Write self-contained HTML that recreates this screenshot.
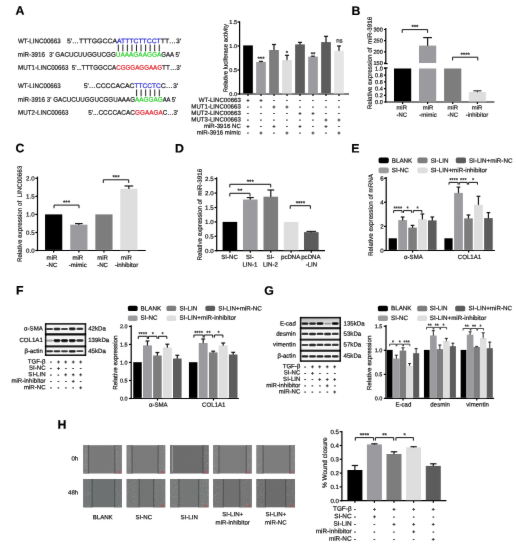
<!DOCTYPE html>
<html lang="en">
<head>
<meta charset="utf-8">
<title>Figure: LINC00663 / miR-3916</title>
<style>
html,body{margin:0;padding:0;background:#fff;}
body{width:516px;height:550px;overflow:hidden;}
svg{display:block;font-family:"Liberation Sans",Arial,Helvetica,sans-serif;fill:#161616;}
svg text{stroke-width:0.2px;text-rendering:geometricPrecision;}

</style>
</head>
<body>
<svg width="516" height="550" viewBox="0 0 516 550">
<defs>
<linearGradient id="ecad" x1="0" y1="0" x2="0.25" y2="1"><stop offset="0" stop-color="#b4b4b4"/><stop offset="0.55" stop-color="#d6d6d6"/><stop offset="1" stop-color="#ececec"/></linearGradient>
<filter id="soft" x="-5%" y="-5%" width="110%" height="110%"><feConvolveMatrix order="3" kernelMatrix="0.0035 0.0521 0.0035 0.0521 0.7778 0.0521 0.0035 0.0521 0.0035" divisor="1" edgeMode="none" preserveAlpha="false"/></filter>
<filter id="band" x="-20%" y="-50%" width="140%" height="200%"><feGaussianBlur stdDeviation="0.55"/></filter>
<filter id="noise" x="0" y="0" width="100%" height="100%">
<feTurbulence type="fractalNoise" baseFrequency="0.9" numOctaves="2" seed="3" result="n"/>
<feColorMatrix in="n" type="matrix" values="0 0 0 0 1  0 0 0 0 1  0 0 0 0 1  2.2 0 0 0 -1.25" result="w"/>
<feComposite in="w" in2="SourceGraphic" operator="in"/>
</filter>
</defs>
<rect x="0" y="0" width="516" height="550" fill="#ffffff"/>
<g filter="url(#soft)" stroke="#161616" stroke-width="0">
<text x="15.50" y="14.80" font-size="12.3" font-weight="bold" fill="#000" stroke="#000" transform="rotate(0.05 15.50 14.80)">A</text>
<text x="351.50" y="14.90" font-size="12.3" font-weight="bold" fill="#000" stroke="#000" transform="rotate(0.05 351.50 14.90)">B</text>
<text x="15.60" y="152.30" font-size="12.3" font-weight="bold" fill="#000" stroke="#000" transform="rotate(0.05 15.60 152.30)">C</text>
<text x="174.90" y="152.50" font-size="12.3" font-weight="bold" fill="#000" stroke="#000" transform="rotate(0.05 174.90 152.50)">D</text>
<text x="351.20" y="152.40" font-size="12.3" font-weight="bold" fill="#000" stroke="#000" transform="rotate(0.05 351.20 152.40)">E</text>
<text x="16.00" y="294.60" font-size="12.3" font-weight="bold" fill="#000" stroke="#000" transform="rotate(0.05 16.00 294.60)">F</text>
<text x="264.30" y="294.70" font-size="12.3" font-weight="bold" fill="#000" stroke="#000" transform="rotate(0.05 264.30 294.70)">G</text>
<text x="57.50" y="428.80" font-size="12.3" font-weight="bold" fill="#000" stroke="#000" transform="rotate(0.05 57.50 428.80)">H</text>
<text x="18.00" y="43.30" font-size="6.7" textLength="42.70" lengthAdjust="spacingAndGlyphs" xml:space="preserve" transform="rotate(0.05 18.00 43.30)">WT-LINC00663</text>
<text x="66.90" y="43.30" font-size="6.7" textLength="50.20" lengthAdjust="spacingAndGlyphs" xml:space="preserve" transform="rotate(0.05 66.90 43.30)">5'…TTTGGCCA</text>
<text x="117.10" y="43.30" font-size="6.7" textLength="43.60" lengthAdjust="spacingAndGlyphs" xml:space="preserve" transform="rotate(0.05 117.10 43.30)" fill="#2a2ad0" stroke="#2a2ad0">ATTTCTTCCT</text>
<text x="160.70" y="43.30" font-size="6.7" textLength="20.40" lengthAdjust="spacingAndGlyphs" xml:space="preserve" transform="rotate(0.05 160.70 43.30)">TT…3'</text>
<text x="18.00" y="56.80" font-size="6.7" textLength="27.00" lengthAdjust="spacingAndGlyphs" xml:space="preserve" transform="rotate(0.05 18.00 56.80)">miR-3916</text>
<text x="48.90" y="56.80" font-size="6.7" textLength="66.90" lengthAdjust="spacingAndGlyphs" xml:space="preserve" transform="rotate(0.05 48.90 56.80)">3' GACUCUUGGUCGG</text>
<text x="115.80" y="56.80" font-size="6.7" textLength="45.50" lengthAdjust="spacingAndGlyphs" xml:space="preserve" transform="rotate(0.05 115.80 56.80)" fill="#2fd12f" stroke="#2fd12f">UAAAGAAGGA</text>
<text x="161.30" y="56.80" font-size="6.7" textLength="18.80" lengthAdjust="spacingAndGlyphs" xml:space="preserve" transform="rotate(0.05 161.30 56.80)">GAA 5'</text>
<text x="18.00" y="69.70" font-size="6.7" textLength="50.40" lengthAdjust="spacingAndGlyphs" xml:space="preserve" transform="rotate(0.05 18.00 69.70)">MUT1-LINC00663</text>
<text x="71.70" y="69.70" font-size="6.7" textLength="44.50" lengthAdjust="spacingAndGlyphs" xml:space="preserve" transform="rotate(0.05 71.70 69.70)">5'...TTTGGCCA</text>
<text x="116.20" y="69.70" font-size="6.7" textLength="45.90" lengthAdjust="spacingAndGlyphs" xml:space="preserve" transform="rotate(0.05 116.20 69.70)" fill="#e0202a" stroke="#e0202a">CGGGAGGAAG</text>
<text x="162.10" y="69.70" font-size="6.7" textLength="19.00" lengthAdjust="spacingAndGlyphs" xml:space="preserve" transform="rotate(0.05 162.10 69.70)">TT…3'</text>
<line x1="118.30" y1="44.60" x2="118.30" y2="51.40" stroke="#222" stroke-width="1.0" />
<line x1="122.85" y1="44.60" x2="122.85" y2="51.40" stroke="#222" stroke-width="1.0" />
<line x1="127.40" y1="44.60" x2="127.40" y2="51.40" stroke="#222" stroke-width="1.0" />
<line x1="131.95" y1="44.60" x2="131.95" y2="51.40" stroke="#222" stroke-width="1.0" />
<line x1="136.50" y1="44.60" x2="136.50" y2="51.40" stroke="#222" stroke-width="1.0" />
<line x1="141.05" y1="44.60" x2="141.05" y2="51.40" stroke="#222" stroke-width="1.0" />
<line x1="145.60" y1="44.60" x2="145.60" y2="51.40" stroke="#222" stroke-width="1.0" />
<line x1="150.15" y1="44.60" x2="150.15" y2="51.40" stroke="#222" stroke-width="1.0" />
<line x1="154.70" y1="44.60" x2="154.70" y2="51.40" stroke="#222" stroke-width="1.0" />
<line x1="159.25" y1="44.60" x2="159.25" y2="51.40" stroke="#222" stroke-width="1.0" />
<text x="18.00" y="87.90" font-size="6.7" textLength="42.70" lengthAdjust="spacingAndGlyphs" xml:space="preserve" transform="rotate(0.05 18.00 87.90)">WT-LINC00663</text>
<text x="83.70" y="87.90" font-size="6.7" textLength="50.90" lengthAdjust="spacingAndGlyphs" xml:space="preserve" transform="rotate(0.05 83.70 87.90)">5'…CCCCACAC</text>
<text x="134.60" y="87.90" font-size="6.7" textLength="26.10" lengthAdjust="spacingAndGlyphs" xml:space="preserve" transform="rotate(0.05 134.60 87.90)" fill="#2a2ad0" stroke="#2a2ad0">TTCCTC</text>
<text x="160.70" y="87.90" font-size="6.7" textLength="17.50" lengthAdjust="spacingAndGlyphs" xml:space="preserve" transform="rotate(0.05 160.70 87.90)">C…3'</text>
<text x="18.00" y="101.70" font-size="6.7" textLength="117.00" lengthAdjust="spacingAndGlyphs" xml:space="preserve" transform="rotate(0.05 18.00 101.70)">miR-3916 3' GACUCUUGGUCGGUAAAG</text>
<text x="135.00" y="101.70" font-size="6.7" textLength="27.70" lengthAdjust="spacingAndGlyphs" xml:space="preserve" transform="rotate(0.05 135.00 101.70)" fill="#2fd12f" stroke="#2fd12f">AAGGAG</text>
<text x="162.70" y="101.70" font-size="6.7" textLength="13.50" lengthAdjust="spacingAndGlyphs" xml:space="preserve" transform="rotate(0.05 162.70 101.70)">AA 5'</text>
<text x="18.00" y="114.70" font-size="6.7" textLength="50.40" lengthAdjust="spacingAndGlyphs" xml:space="preserve" transform="rotate(0.05 18.00 114.70)">MUT2-LINC00663</text>
<text x="88.20" y="114.70" font-size="6.7" textLength="46.80" lengthAdjust="spacingAndGlyphs" xml:space="preserve" transform="rotate(0.05 88.20 114.70)">5'...CCCCACAC</text>
<text x="135.00" y="114.70" font-size="6.7" textLength="27.70" lengthAdjust="spacingAndGlyphs" xml:space="preserve" transform="rotate(0.05 135.00 114.70)" fill="#e0202a" stroke="#e0202a">GGAAGA</text>
<text x="162.70" y="114.70" font-size="6.7" textLength="15.50" lengthAdjust="spacingAndGlyphs" xml:space="preserve" transform="rotate(0.05 162.70 114.70)">C…3'</text>
<line x1="136.60" y1="89.50" x2="136.60" y2="96.30" stroke="#222" stroke-width="1.0" />
<line x1="141.14" y1="89.50" x2="141.14" y2="96.30" stroke="#222" stroke-width="1.0" />
<line x1="145.68" y1="89.50" x2="145.68" y2="96.30" stroke="#222" stroke-width="1.0" />
<line x1="150.22" y1="89.50" x2="150.22" y2="96.30" stroke="#222" stroke-width="1.0" />
<line x1="154.76" y1="89.50" x2="154.76" y2="96.30" stroke="#222" stroke-width="1.0" />
<line x1="159.30" y1="89.50" x2="159.30" y2="96.30" stroke="#222" stroke-width="1.0" />
<line x1="239.60" y1="21.20" x2="239.60" y2="94.60" stroke="#000" stroke-width="1.2" />
<line x1="237.40" y1="22.00" x2="239.60" y2="22.00" stroke="#000" stroke-width="1.2" />
<text x="237.00" y="23.98" font-size="5.5" text-anchor="end" transform="rotate(0.05 237.00 23.98)">1.5</text>
<line x1="237.40" y1="46.00" x2="239.60" y2="46.00" stroke="#000" stroke-width="1.2" />
<text x="237.00" y="47.98" font-size="5.5" text-anchor="end" transform="rotate(0.05 237.00 47.98)">1.0</text>
<line x1="237.40" y1="70.00" x2="239.60" y2="70.00" stroke="#000" stroke-width="1.2" />
<text x="237.00" y="71.98" font-size="5.5" text-anchor="end" transform="rotate(0.05 237.00 71.98)">0.5</text>
<line x1="237.40" y1="94.00" x2="239.60" y2="94.00" stroke="#000" stroke-width="1.2" />
<text x="237.00" y="95.98" font-size="5.5" text-anchor="end" transform="rotate(0.05 237.00 95.98)">0.0</text>
<line x1="239.00" y1="94.00" x2="349.00" y2="94.00" stroke="#000" stroke-width="1.2" />
<line x1="248.00" y1="94.00" x2="248.00" y2="96.00" stroke="#000" stroke-width="1.2" />
<line x1="261.00" y1="94.00" x2="261.00" y2="96.00" stroke="#000" stroke-width="1.2" />
<line x1="274.00" y1="94.00" x2="274.00" y2="96.00" stroke="#000" stroke-width="1.2" />
<line x1="287.00" y1="94.00" x2="287.00" y2="96.00" stroke="#000" stroke-width="1.2" />
<line x1="300.00" y1="94.00" x2="300.00" y2="96.00" stroke="#000" stroke-width="1.2" />
<line x1="313.00" y1="94.00" x2="313.00" y2="96.00" stroke="#000" stroke-width="1.2" />
<line x1="326.00" y1="94.00" x2="326.00" y2="96.00" stroke="#000" stroke-width="1.2" />
<line x1="339.00" y1="94.00" x2="339.00" y2="96.00" stroke="#000" stroke-width="1.2" />
<text x="227.60" y="58.20" font-size="5.9" text-anchor="middle" transform="rotate(-89.95 227.60 58.20)" textLength="68.2" lengthAdjust="spacingAndGlyphs">Relative luciferase activity</text>
<rect x="243.15" y="45.40" width="9.70" height="48.00" fill="#000000"/>
<rect x="256.15" y="61.90" width="9.70" height="31.50" fill="#9b9b9f"/>
<line x1="261.00" y1="62.20" x2="261.00" y2="61.40" stroke="#141414" stroke-width="1.2" />
<line x1="258.95" y1="61.40" x2="263.05" y2="61.40" stroke="#141414" stroke-width="1.2" />
<rect x="269.15" y="50.00" width="9.70" height="43.40" fill="#7d7d7d"/>
<line x1="274.00" y1="50.30" x2="274.00" y2="44.50" stroke="#141414" stroke-width="1.2" />
<line x1="271.95" y1="44.50" x2="276.05" y2="44.50" stroke="#141414" stroke-width="1.2" />
<rect x="282.15" y="60.00" width="9.70" height="33.40" fill="#dedede"/>
<line x1="287.00" y1="60.30" x2="287.00" y2="55.30" stroke="#141414" stroke-width="1.2" />
<line x1="284.95" y1="55.30" x2="289.05" y2="55.30" stroke="#141414" stroke-width="1.2" />
<rect x="295.15" y="44.40" width="9.70" height="49.00" fill="#5c5c5c"/>
<line x1="300.00" y1="44.70" x2="300.00" y2="42.40" stroke="#141414" stroke-width="1.2" />
<line x1="297.95" y1="42.40" x2="302.05" y2="42.40" stroke="#141414" stroke-width="1.2" />
<rect x="308.15" y="56.60" width="9.70" height="36.80" fill="#9b9b9f"/>
<line x1="313.00" y1="56.90" x2="313.00" y2="56.20" stroke="#141414" stroke-width="1.2" />
<line x1="310.95" y1="56.20" x2="315.05" y2="56.20" stroke="#141414" stroke-width="1.2" />
<rect x="321.15" y="42.10" width="9.70" height="51.30" fill="#5c5c5c"/>
<line x1="326.00" y1="42.40" x2="326.00" y2="36.30" stroke="#141414" stroke-width="1.2" />
<line x1="323.95" y1="36.30" x2="328.05" y2="36.30" stroke="#141414" stroke-width="1.2" />
<rect x="334.15" y="50.70" width="9.70" height="42.70" fill="#e6e6e6"/>
<line x1="339.00" y1="51.00" x2="339.00" y2="46.00" stroke="#141414" stroke-width="1.2" />
<line x1="336.95" y1="46.00" x2="341.05" y2="46.00" stroke="#141414" stroke-width="1.2" />
<text x="261.00" y="60.80" font-size="6.0" text-anchor="middle" transform="rotate(0.05 261.00 60.80)">***</text>
<text x="287.00" y="54.90" font-size="6.0" text-anchor="middle" transform="rotate(0.05 287.00 54.90)">*</text>
<text x="313.00" y="56.20" font-size="6.0" text-anchor="middle" transform="rotate(0.05 313.00 56.20)">**</text>
<text x="339.30" y="42.60" font-size="6.0" text-anchor="middle" transform="rotate(0.05 339.30 42.60)">ns</text>
<text x="240.80" y="102.00" font-size="6.1" text-anchor="end" transform="rotate(0.05 240.80 102.00)">WT-LINC00663</text>
<text x="248.00" y="102.30" font-size="5.0" text-anchor="middle" font-weight="bold" transform="rotate(0.05 248.00 102.30)">+</text>
<text x="261.00" y="102.30" font-size="5.0" text-anchor="middle" font-weight="bold" transform="rotate(0.05 261.00 102.30)">+</text>
<text x="274.00" y="102.10" font-size="5.4" text-anchor="middle" font-weight="bold" transform="rotate(0.05 274.00 102.10)">-</text>
<text x="287.00" y="102.10" font-size="5.4" text-anchor="middle" font-weight="bold" transform="rotate(0.05 287.00 102.10)">-</text>
<text x="300.00" y="102.10" font-size="5.4" text-anchor="middle" font-weight="bold" transform="rotate(0.05 300.00 102.10)">-</text>
<text x="313.00" y="102.10" font-size="5.4" text-anchor="middle" font-weight="bold" transform="rotate(0.05 313.00 102.10)">-</text>
<text x="326.00" y="102.10" font-size="5.4" text-anchor="middle" font-weight="bold" transform="rotate(0.05 326.00 102.10)">-</text>
<text x="339.00" y="102.10" font-size="5.4" text-anchor="middle" font-weight="bold" transform="rotate(0.05 339.00 102.10)">-</text>
<text x="240.80" y="108.50" font-size="6.1" text-anchor="end" transform="rotate(0.05 240.80 108.50)">MUT1-LINC00663</text>
<text x="248.00" y="108.60" font-size="5.4" text-anchor="middle" font-weight="bold" transform="rotate(0.05 248.00 108.60)">-</text>
<text x="261.00" y="108.60" font-size="5.4" text-anchor="middle" font-weight="bold" transform="rotate(0.05 261.00 108.60)">-</text>
<text x="274.00" y="108.80" font-size="5.0" text-anchor="middle" font-weight="bold" transform="rotate(0.05 274.00 108.80)">+</text>
<text x="287.00" y="108.80" font-size="5.0" text-anchor="middle" font-weight="bold" transform="rotate(0.05 287.00 108.80)">+</text>
<text x="300.00" y="108.60" font-size="5.4" text-anchor="middle" font-weight="bold" transform="rotate(0.05 300.00 108.60)">-</text>
<text x="313.00" y="108.60" font-size="5.4" text-anchor="middle" font-weight="bold" transform="rotate(0.05 313.00 108.60)">-</text>
<text x="326.00" y="108.60" font-size="5.4" text-anchor="middle" font-weight="bold" transform="rotate(0.05 326.00 108.60)">-</text>
<text x="339.00" y="108.60" font-size="5.4" text-anchor="middle" font-weight="bold" transform="rotate(0.05 339.00 108.60)">-</text>
<text x="240.80" y="115.00" font-size="6.1" text-anchor="end" transform="rotate(0.05 240.80 115.00)">MUT2-LINC00663</text>
<text x="248.00" y="115.10" font-size="5.4" text-anchor="middle" font-weight="bold" transform="rotate(0.05 248.00 115.10)">-</text>
<text x="261.00" y="115.10" font-size="5.4" text-anchor="middle" font-weight="bold" transform="rotate(0.05 261.00 115.10)">-</text>
<text x="274.00" y="115.10" font-size="5.4" text-anchor="middle" font-weight="bold" transform="rotate(0.05 274.00 115.10)">-</text>
<text x="287.00" y="115.10" font-size="5.4" text-anchor="middle" font-weight="bold" transform="rotate(0.05 287.00 115.10)">-</text>
<text x="300.00" y="115.30" font-size="5.0" text-anchor="middle" font-weight="bold" transform="rotate(0.05 300.00 115.30)">+</text>
<text x="313.00" y="115.30" font-size="5.0" text-anchor="middle" font-weight="bold" transform="rotate(0.05 313.00 115.30)">+</text>
<text x="326.00" y="115.10" font-size="5.4" text-anchor="middle" font-weight="bold" transform="rotate(0.05 326.00 115.10)">-</text>
<text x="339.00" y="115.10" font-size="5.4" text-anchor="middle" font-weight="bold" transform="rotate(0.05 339.00 115.10)">-</text>
<text x="240.80" y="121.50" font-size="6.1" text-anchor="end" transform="rotate(0.05 240.80 121.50)">MUT3-LINC00663</text>
<text x="248.00" y="121.60" font-size="5.4" text-anchor="middle" font-weight="bold" transform="rotate(0.05 248.00 121.60)">-</text>
<text x="261.00" y="121.60" font-size="5.4" text-anchor="middle" font-weight="bold" transform="rotate(0.05 261.00 121.60)">-</text>
<text x="274.00" y="121.60" font-size="5.4" text-anchor="middle" font-weight="bold" transform="rotate(0.05 274.00 121.60)">-</text>
<text x="287.00" y="121.60" font-size="5.4" text-anchor="middle" font-weight="bold" transform="rotate(0.05 287.00 121.60)">-</text>
<text x="300.00" y="121.60" font-size="5.4" text-anchor="middle" font-weight="bold" transform="rotate(0.05 300.00 121.60)">-</text>
<text x="313.00" y="121.60" font-size="5.4" text-anchor="middle" font-weight="bold" transform="rotate(0.05 313.00 121.60)">-</text>
<text x="326.00" y="121.80" font-size="5.0" text-anchor="middle" font-weight="bold" transform="rotate(0.05 326.00 121.80)">+</text>
<text x="339.00" y="121.80" font-size="5.0" text-anchor="middle" font-weight="bold" transform="rotate(0.05 339.00 121.80)">+</text>
<text x="240.80" y="128.00" font-size="6.1" text-anchor="end" transform="rotate(0.05 240.80 128.00)">miR-3916 NC</text>
<text x="248.00" y="128.30" font-size="5.0" text-anchor="middle" font-weight="bold" transform="rotate(0.05 248.00 128.30)">+</text>
<text x="261.00" y="128.10" font-size="5.4" text-anchor="middle" font-weight="bold" transform="rotate(0.05 261.00 128.10)">-</text>
<text x="274.00" y="128.30" font-size="5.0" text-anchor="middle" font-weight="bold" transform="rotate(0.05 274.00 128.30)">+</text>
<text x="287.00" y="128.10" font-size="5.4" text-anchor="middle" font-weight="bold" transform="rotate(0.05 287.00 128.10)">-</text>
<text x="300.00" y="128.30" font-size="5.0" text-anchor="middle" font-weight="bold" transform="rotate(0.05 300.00 128.30)">+</text>
<text x="313.00" y="128.10" font-size="5.4" text-anchor="middle" font-weight="bold" transform="rotate(0.05 313.00 128.10)">-</text>
<text x="326.00" y="128.30" font-size="5.0" text-anchor="middle" font-weight="bold" transform="rotate(0.05 326.00 128.30)">+</text>
<text x="339.00" y="128.10" font-size="5.4" text-anchor="middle" font-weight="bold" transform="rotate(0.05 339.00 128.10)">-</text>
<text x="240.80" y="134.50" font-size="6.1" text-anchor="end" transform="rotate(0.05 240.80 134.50)">miR-3916 mimic</text>
<text x="248.00" y="134.60" font-size="5.4" text-anchor="middle" font-weight="bold" transform="rotate(0.05 248.00 134.60)">-</text>
<text x="261.00" y="134.80" font-size="5.0" text-anchor="middle" font-weight="bold" transform="rotate(0.05 261.00 134.80)">+</text>
<text x="274.00" y="134.60" font-size="5.4" text-anchor="middle" font-weight="bold" transform="rotate(0.05 274.00 134.60)">-</text>
<text x="287.00" y="134.80" font-size="5.0" text-anchor="middle" font-weight="bold" transform="rotate(0.05 287.00 134.80)">+</text>
<text x="300.00" y="134.60" font-size="5.4" text-anchor="middle" font-weight="bold" transform="rotate(0.05 300.00 134.60)">-</text>
<text x="313.00" y="134.80" font-size="5.0" text-anchor="middle" font-weight="bold" transform="rotate(0.05 313.00 134.80)">+</text>
<text x="326.00" y="134.60" font-size="5.4" text-anchor="middle" font-weight="bold" transform="rotate(0.05 326.00 134.60)">-</text>
<text x="339.00" y="134.80" font-size="5.0" text-anchor="middle" font-weight="bold" transform="rotate(0.05 339.00 134.80)">+</text>
<line x1="385.80" y1="28.00" x2="385.80" y2="63.60" stroke="#000" stroke-width="1.2" />
<line x1="384.00" y1="29.50" x2="385.80" y2="29.50" stroke="#000" stroke-width="1.2" />
<text x="382.80" y="31.52" font-size="5.6" text-anchor="end" transform="rotate(0.05 382.80 31.52)">300</text>
<line x1="384.00" y1="40.60" x2="385.80" y2="40.60" stroke="#000" stroke-width="1.2" />
<text x="382.80" y="42.62" font-size="5.6" text-anchor="end" transform="rotate(0.05 382.80 42.62)">250</text>
<line x1="384.00" y1="51.80" x2="385.80" y2="51.80" stroke="#000" stroke-width="1.2" />
<text x="382.80" y="53.82" font-size="5.6" text-anchor="end" transform="rotate(0.05 382.80 53.82)">200</text>
<line x1="384.00" y1="63.00" x2="385.80" y2="63.00" stroke="#000" stroke-width="1.2" />
<text x="382.80" y="65.02" font-size="5.6" text-anchor="end" transform="rotate(0.05 382.80 65.02)">150</text>
<line x1="385.80" y1="67.90" x2="385.80" y2="102.60" stroke="#000" stroke-width="1.2" />
<line x1="384.00" y1="68.50" x2="385.80" y2="68.50" stroke="#000" stroke-width="1.2" />
<text x="382.80" y="70.52" font-size="5.6" text-anchor="end" transform="rotate(0.05 382.80 70.52)">1.0</text>
<line x1="384.00" y1="75.20" x2="385.80" y2="75.20" stroke="#000" stroke-width="1.2" />
<text x="382.80" y="77.22" font-size="5.6" text-anchor="end" transform="rotate(0.05 382.80 77.22)">0.8</text>
<line x1="384.00" y1="81.90" x2="385.80" y2="81.90" stroke="#000" stroke-width="1.2" />
<text x="382.80" y="83.92" font-size="5.6" text-anchor="end" transform="rotate(0.05 382.80 83.92)">0.6</text>
<line x1="384.00" y1="88.60" x2="385.80" y2="88.60" stroke="#000" stroke-width="1.2" />
<text x="382.80" y="90.62" font-size="5.6" text-anchor="end" transform="rotate(0.05 382.80 90.62)">0.4</text>
<line x1="384.00" y1="95.30" x2="385.80" y2="95.30" stroke="#000" stroke-width="1.2" />
<text x="382.80" y="97.32" font-size="5.6" text-anchor="end" transform="rotate(0.05 382.80 97.32)">0.2</text>
<line x1="384.00" y1="102.00" x2="385.80" y2="102.00" stroke="#000" stroke-width="1.2" />
<text x="382.80" y="104.02" font-size="5.6" text-anchor="end" transform="rotate(0.05 382.80 104.02)">0.0</text>
<line x1="385.20" y1="102.00" x2="494.40" y2="102.00" stroke="#000" stroke-width="1.2" />
<line x1="402.60" y1="102.00" x2="402.60" y2="104.00" stroke="#000" stroke-width="1.2" />
<line x1="427.60" y1="102.00" x2="427.60" y2="104.00" stroke="#000" stroke-width="1.2" />
<line x1="452.70" y1="102.00" x2="452.70" y2="104.00" stroke="#000" stroke-width="1.2" />
<line x1="477.40" y1="102.00" x2="477.40" y2="104.00" stroke="#000" stroke-width="1.2" />
<line x1="384.00" y1="63.60" x2="387.60" y2="63.60" stroke="#000" stroke-width="1.2" />
<line x1="384.00" y1="67.90" x2="387.60" y2="67.90" stroke="#000" stroke-width="1.2" />
<text x="371.80" y="63.00" font-size="6.2" xml:space="preserve" text-anchor="middle" transform="rotate(-89.95 371.80 63.00)" textLength="92.7" lengthAdjust="spacingAndGlyphs">Relative expression of  miR-3916</text>
<rect x="394.00" y="68.50" width="17.20" height="32.90" fill="#000000"/>
<rect x="419.00" y="68.50" width="17.20" height="32.90" fill="#9b9b9f"/>
<rect x="419.00" y="45.60" width="17.20" height="17.40" fill="#9b9b9f"/>
<line x1="427.60" y1="45.90" x2="427.60" y2="37.60" stroke="#141414" stroke-width="1.2" />
<line x1="423.20" y1="37.60" x2="432.00" y2="37.60" stroke="#141414" stroke-width="1.2" />
<rect x="444.10" y="68.50" width="17.20" height="32.90" fill="#7d7d7d"/>
<rect x="468.80" y="92.00" width="17.20" height="9.40" fill="#dedede"/>
<line x1="477.40" y1="92.20" x2="477.40" y2="90.90" stroke="#141414" stroke-width="1.1" />
<line x1="473.30" y1="90.90" x2="481.50" y2="90.90" stroke="#141414" stroke-width="1.1" />
<path d="M402.20 32.80V29.60H427.60V32.80" stroke="#141414" stroke-width="1.0" fill="none" />
<text x="414.90" y="29.10" font-size="6.0" text-anchor="middle" transform="rotate(0.05 414.90 29.10)">***</text>
<path d="M452.60 60.40V57.20H477.80V60.40" stroke="#141414" stroke-width="1.0" fill="none" />
<text x="465.20" y="56.70" font-size="6.0" text-anchor="middle" transform="rotate(0.05 465.20 56.70)">****</text>
<text x="401.70" y="109.40" font-size="5.9" text-anchor="middle" transform="rotate(0.05 401.70 109.40)">miR</text>
<text x="401.70" y="116.80" font-size="5.9" text-anchor="middle" transform="rotate(0.05 401.70 116.80)">-NC</text>
<text x="428.00" y="109.40" font-size="5.9" text-anchor="middle" transform="rotate(0.05 428.00 109.40)">miR</text>
<text x="428.00" y="116.80" font-size="5.9" text-anchor="middle" transform="rotate(0.05 428.00 116.80)">-mimic</text>
<text x="452.80" y="109.40" font-size="5.9" text-anchor="middle" transform="rotate(0.05 452.80 109.40)">miR</text>
<text x="452.80" y="116.80" font-size="5.9" text-anchor="middle" transform="rotate(0.05 452.80 116.80)">-NC</text>
<text x="477.00" y="109.40" font-size="5.9" text-anchor="middle" transform="rotate(0.05 477.00 109.40)">miR</text>
<text x="477.00" y="116.80" font-size="5.9" text-anchor="middle" transform="rotate(0.05 477.00 116.80)">-inhibitor</text>
<line x1="37.50" y1="176.60" x2="37.50" y2="251.10" stroke="#000" stroke-width="1.2" />
<line x1="35.30" y1="178.30" x2="37.50" y2="178.30" stroke="#000" stroke-width="1.2" />
<text x="34.60" y="180.50" font-size="6.1" text-anchor="end" transform="rotate(0.05 34.60 180.50)">2.0</text>
<line x1="35.30" y1="196.35" x2="37.50" y2="196.35" stroke="#000" stroke-width="1.2" />
<text x="34.60" y="198.55" font-size="6.1" text-anchor="end" transform="rotate(0.05 34.60 198.55)">1.5</text>
<line x1="35.30" y1="214.40" x2="37.50" y2="214.40" stroke="#000" stroke-width="1.2" />
<text x="34.60" y="216.60" font-size="6.1" text-anchor="end" transform="rotate(0.05 34.60 216.60)">1.0</text>
<line x1="35.30" y1="232.45" x2="37.50" y2="232.45" stroke="#000" stroke-width="1.2" />
<text x="34.60" y="234.65" font-size="6.1" text-anchor="end" transform="rotate(0.05 34.60 234.65)">0.5</text>
<line x1="35.30" y1="250.50" x2="37.50" y2="250.50" stroke="#000" stroke-width="1.2" />
<text x="34.60" y="252.70" font-size="6.1" text-anchor="end" transform="rotate(0.05 34.60 252.70)">0.0</text>
<line x1="36.90" y1="250.50" x2="145.80" y2="250.50" stroke="#000" stroke-width="1.2" />
<line x1="53.65" y1="250.50" x2="53.65" y2="252.50" stroke="#000" stroke-width="1.2" />
<line x1="78.85" y1="250.50" x2="78.85" y2="252.50" stroke="#000" stroke-width="1.2" />
<line x1="103.95" y1="250.50" x2="103.95" y2="252.50" stroke="#000" stroke-width="1.2" />
<line x1="128.85" y1="250.50" x2="128.85" y2="252.50" stroke="#000" stroke-width="1.2" />
<text x="21.80" y="214.00" font-size="6.2" xml:space="preserve" text-anchor="middle" transform="rotate(-89.95 21.80 214.00)" textLength="96.2" lengthAdjust="spacingAndGlyphs">Relative expression of  LINC00663</text>
<rect x="45.05" y="214.40" width="17.20" height="35.50" fill="#000000"/>
<rect x="70.25" y="224.70" width="17.20" height="25.20" fill="#9b9b9f"/>
<line x1="78.85" y1="225.00" x2="78.85" y2="223.60" stroke="#141414" stroke-width="1.2" />
<line x1="75.05" y1="223.60" x2="82.65" y2="223.60" stroke="#141414" stroke-width="1.2" />
<rect x="95.35" y="214.40" width="17.20" height="35.50" fill="#7d7d7d"/>
<rect x="120.25" y="188.70" width="17.20" height="61.20" fill="#dedede"/>
<line x1="128.85" y1="189.00" x2="128.85" y2="186.00" stroke="#141414" stroke-width="1.2" />
<line x1="124.55" y1="186.00" x2="133.15" y2="186.00" stroke="#141414" stroke-width="1.2" />
<path d="M54.00 208.20V205.10H79.00V208.20" stroke="#141414" stroke-width="1.0" fill="none" />
<text x="66.50" y="204.60" font-size="6.0" text-anchor="middle" transform="rotate(0.05 66.50 204.60)">***</text>
<path d="M103.30 182.90V179.80H128.70V182.90" stroke="#141414" stroke-width="1.0" fill="none" />
<text x="116.00" y="179.30" font-size="6.0" text-anchor="middle" transform="rotate(0.05 116.00 179.30)">***</text>
<text x="52.00" y="259.70" font-size="6.1" text-anchor="middle" transform="rotate(0.05 52.00 259.70)">miR</text>
<text x="52.00" y="266.90" font-size="6.1" text-anchor="middle" transform="rotate(0.05 52.00 266.90)">-NC</text>
<text x="77.80" y="259.70" font-size="6.1" text-anchor="middle" transform="rotate(0.05 77.80 259.70)">miR</text>
<text x="77.80" y="266.90" font-size="6.1" text-anchor="middle" transform="rotate(0.05 77.80 266.90)">-mimic</text>
<text x="102.60" y="259.70" font-size="6.1" text-anchor="middle" transform="rotate(0.05 102.60 259.70)">miR</text>
<text x="102.60" y="266.90" font-size="6.1" text-anchor="middle" transform="rotate(0.05 102.60 266.90)">-NC</text>
<text x="126.50" y="259.70" font-size="6.1" text-anchor="middle" transform="rotate(0.05 126.50 259.70)">miR</text>
<text x="126.50" y="266.90" font-size="6.1" text-anchor="middle" transform="rotate(0.05 126.50 266.90)">-inhibitor</text>
<line x1="216.70" y1="177.20" x2="216.70" y2="251.30" stroke="#000" stroke-width="1.2" />
<line x1="214.50" y1="178.70" x2="216.70" y2="178.70" stroke="#000" stroke-width="1.2" />
<text x="213.60" y="180.90" font-size="6.1" text-anchor="end" transform="rotate(0.05 213.60 180.90)">2.5</text>
<line x1="214.50" y1="193.10" x2="216.70" y2="193.10" stroke="#000" stroke-width="1.2" />
<text x="213.60" y="195.30" font-size="6.1" text-anchor="end" transform="rotate(0.05 213.60 195.30)">2.0</text>
<line x1="214.50" y1="207.50" x2="216.70" y2="207.50" stroke="#000" stroke-width="1.2" />
<text x="213.60" y="209.70" font-size="6.1" text-anchor="end" transform="rotate(0.05 213.60 209.70)">1.5</text>
<line x1="214.50" y1="221.90" x2="216.70" y2="221.90" stroke="#000" stroke-width="1.2" />
<text x="213.60" y="224.10" font-size="6.1" text-anchor="end" transform="rotate(0.05 213.60 224.10)">1.0</text>
<line x1="214.50" y1="236.30" x2="216.70" y2="236.30" stroke="#000" stroke-width="1.2" />
<text x="213.60" y="238.50" font-size="6.1" text-anchor="end" transform="rotate(0.05 213.60 238.50)">0.5</text>
<line x1="214.50" y1="250.70" x2="216.70" y2="250.70" stroke="#000" stroke-width="1.2" />
<text x="213.60" y="252.90" font-size="6.1" text-anchor="end" transform="rotate(0.05 213.60 252.90)">0.0</text>
<line x1="216.10" y1="250.70" x2="325.00" y2="250.70" stroke="#000" stroke-width="1.2" />
<line x1="229.90" y1="250.70" x2="229.90" y2="252.70" stroke="#000" stroke-width="1.2" />
<line x1="250.30" y1="250.70" x2="250.30" y2="252.70" stroke="#000" stroke-width="1.2" />
<line x1="270.80" y1="250.70" x2="270.80" y2="252.70" stroke="#000" stroke-width="1.2" />
<line x1="291.10" y1="250.70" x2="291.10" y2="252.70" stroke="#000" stroke-width="1.2" />
<line x1="311.30" y1="250.70" x2="311.30" y2="252.70" stroke="#000" stroke-width="1.2" />
<text x="201.80" y="214.60" font-size="6.2" xml:space="preserve" text-anchor="middle" transform="rotate(-89.95 201.80 214.60)" textLength="91.6" lengthAdjust="spacingAndGlyphs">Relative expression of  miR-3916</text>
<rect x="222.60" y="221.90" width="14.60" height="28.20" fill="#000000"/>
<rect x="243.00" y="199.50" width="14.60" height="50.60" fill="#9b9b9f"/>
<line x1="250.30" y1="199.80" x2="250.30" y2="197.60" stroke="#141414" stroke-width="1.2" />
<line x1="246.80" y1="197.60" x2="253.80" y2="197.60" stroke="#141414" stroke-width="1.2" />
<rect x="263.50" y="196.70" width="14.60" height="53.40" fill="#7d7d7d"/>
<line x1="270.80" y1="197.00" x2="270.80" y2="190.00" stroke="#141414" stroke-width="1.2" />
<line x1="267.40" y1="190.00" x2="274.20" y2="190.00" stroke="#141414" stroke-width="1.2" />
<rect x="283.80" y="221.90" width="14.60" height="28.20" fill="#dedede"/>
<rect x="304.00" y="232.10" width="14.60" height="18.00" fill="#5c5c5c"/>
<line x1="311.30" y1="232.40" x2="311.30" y2="231.40" stroke="#141414" stroke-width="1.1" />
<line x1="306.50" y1="231.40" x2="316.10" y2="231.40" stroke="#141414" stroke-width="1.1" />
<path d="M229.80 196.40V193.30H250.00V196.40" stroke="#141414" stroke-width="1.0" fill="none" />
<text x="239.90" y="192.80" font-size="6.0" text-anchor="middle" transform="rotate(0.05 239.90 192.80)">**</text>
<path d="M229.80 187.40V184.30H270.70V187.40" stroke="#141414" stroke-width="1.0" fill="none" />
<text x="250.25" y="183.80" font-size="6.0" text-anchor="middle" transform="rotate(0.05 250.25 183.80)">***</text>
<path d="M290.20 208.80V205.70H310.40V208.80" stroke="#141414" stroke-width="1.0" fill="none" />
<text x="300.30" y="205.20" font-size="6.0" text-anchor="middle" transform="rotate(0.05 300.30 205.20)">****</text>
<text x="229.50" y="258.90" font-size="6.1" text-anchor="middle" transform="rotate(0.05 229.50 258.90)">SI-NC</text>
<text x="249.90" y="258.90" font-size="6.1" text-anchor="middle" transform="rotate(0.05 249.90 258.90)">SI-</text>
<text x="249.90" y="266.60" font-size="6.1" text-anchor="middle" transform="rotate(0.05 249.90 266.60)">LIN-1</text>
<text x="270.40" y="258.90" font-size="6.1" text-anchor="middle" transform="rotate(0.05 270.40 258.90)">SI-</text>
<text x="270.40" y="266.60" font-size="6.1" text-anchor="middle" transform="rotate(0.05 270.40 266.60)">LIN-2</text>
<text x="290.70" y="258.90" font-size="6.1" text-anchor="middle" transform="rotate(0.05 290.70 258.90)">pcDNA</text>
<text x="310.90" y="258.90" font-size="6.1" text-anchor="middle" transform="rotate(0.05 310.90 258.90)">pcDNA</text>
<text x="311.40" y="266.60" font-size="6.1" text-anchor="middle" transform="rotate(0.05 311.40 266.60)">-LIN</text>
<rect x="378.60" y="157.60" width="10.20" height="5.60" fill="#000000" rx="1.6"/>
<text x="391.80" y="162.65" font-size="6.25" transform="rotate(0.05 391.80 162.65)">BLANK</text>
<rect x="417.40" y="157.60" width="10.20" height="5.60" fill="#7d7d7d" rx="1.6"/>
<text x="430.70" y="162.65" font-size="6.25" transform="rotate(0.05 430.70 162.65)">SI-LIN</text>
<rect x="455.80" y="157.60" width="10.20" height="5.60" fill="#5c5c5c" rx="1.6"/>
<text x="468.90" y="162.65" font-size="6.25" transform="rotate(0.05 468.90 162.65)">SI-LIN+miR-NC</text>
<rect x="378.60" y="167.60" width="10.20" height="5.60" fill="#9b9b9f" rx="1.6"/>
<text x="391.80" y="172.15" font-size="6.25" transform="rotate(0.05 391.80 172.15)">SI-NC</text>
<rect x="417.40" y="167.60" width="10.20" height="5.60" fill="#dedede" rx="1.6"/>
<text x="430.70" y="172.15" font-size="6.25" transform="rotate(0.05 430.70 172.15)">SI-LIN+miR-inhibitor</text>
<line x1="386.20" y1="177.00" x2="386.20" y2="251.10" stroke="#000" stroke-width="1.2" />
<line x1="384.00" y1="178.20" x2="386.20" y2="178.20" stroke="#000" stroke-width="1.2" />
<text x="383.60" y="180.40" font-size="6.1" text-anchor="end" transform="rotate(0.05 383.60 180.40)">6</text>
<line x1="384.00" y1="202.30" x2="386.20" y2="202.30" stroke="#000" stroke-width="1.2" />
<text x="383.60" y="204.50" font-size="6.1" text-anchor="end" transform="rotate(0.05 383.60 204.50)">4</text>
<line x1="384.00" y1="226.40" x2="386.20" y2="226.40" stroke="#000" stroke-width="1.2" />
<text x="383.60" y="228.60" font-size="6.1" text-anchor="end" transform="rotate(0.05 383.60 228.60)">2</text>
<line x1="384.00" y1="250.50" x2="386.20" y2="250.50" stroke="#000" stroke-width="1.2" />
<text x="383.60" y="252.70" font-size="6.1" text-anchor="end" transform="rotate(0.05 383.60 252.70)">0</text>
<line x1="385.60" y1="250.50" x2="494.90" y2="250.50" stroke="#000" stroke-width="1.2" />
<line x1="412.60" y1="250.50" x2="412.60" y2="252.50" stroke="#000" stroke-width="1.2" />
<line x1="468.60" y1="250.50" x2="468.60" y2="252.50" stroke="#000" stroke-width="1.2" />
<text x="372.70" y="215.00" font-size="6.2" text-anchor="middle" transform="rotate(-89.95 372.70 215.00)" textLength="82" lengthAdjust="spacingAndGlyphs">Relative expression of mRNA</text>
<rect x="388.70" y="238.30" width="8.20" height="11.60" fill="#000000"/>
<rect x="398.27" y="220.10" width="8.80" height="29.80" fill="#9b9b9f"/>
<line x1="402.67" y1="220.40" x2="402.67" y2="217.00" stroke="#141414" stroke-width="1.2" />
<line x1="400.82" y1="217.00" x2="404.52" y2="217.00" stroke="#141414" stroke-width="1.2" />
<rect x="408.24" y="227.60" width="8.60" height="22.30" fill="#7d7d7d"/>
<line x1="412.54" y1="227.90" x2="412.54" y2="225.40" stroke="#141414" stroke-width="1.2" />
<line x1="410.69" y1="225.40" x2="414.39" y2="225.40" stroke="#141414" stroke-width="1.2" />
<rect x="418.01" y="219.20" width="8.80" height="30.70" fill="#dedede"/>
<line x1="422.41" y1="219.50" x2="422.41" y2="214.00" stroke="#141414" stroke-width="1.2" />
<line x1="420.56" y1="214.00" x2="424.26" y2="214.00" stroke="#141414" stroke-width="1.2" />
<rect x="427.98" y="220.40" width="8.60" height="29.50" fill="#5c5c5c"/>
<line x1="432.28" y1="220.70" x2="432.28" y2="217.00" stroke="#141414" stroke-width="1.2" />
<line x1="430.43" y1="217.00" x2="434.13" y2="217.00" stroke="#141414" stroke-width="1.2" />
<rect x="444.40" y="238.30" width="8.20" height="11.60" fill="#000000"/>
<rect x="454.08" y="192.90" width="8.80" height="57.00" fill="#9b9b9f"/>
<line x1="458.48" y1="193.20" x2="458.48" y2="187.10" stroke="#141414" stroke-width="1.2" />
<line x1="456.63" y1="187.10" x2="460.33" y2="187.10" stroke="#141414" stroke-width="1.2" />
<rect x="464.16" y="218.40" width="8.60" height="31.50" fill="#7d7d7d"/>
<line x1="468.46" y1="218.70" x2="468.46" y2="215.00" stroke="#141414" stroke-width="1.2" />
<line x1="466.61" y1="215.00" x2="470.31" y2="215.00" stroke="#141414" stroke-width="1.2" />
<rect x="474.04" y="204.80" width="8.80" height="45.10" fill="#dedede"/>
<line x1="478.44" y1="205.10" x2="478.44" y2="196.30" stroke="#141414" stroke-width="1.2" />
<line x1="476.59" y1="196.30" x2="480.29" y2="196.30" stroke="#141414" stroke-width="1.2" />
<rect x="484.12" y="218.10" width="8.60" height="31.80" fill="#5c5c5c"/>
<line x1="488.42" y1="218.40" x2="488.42" y2="212.60" stroke="#141414" stroke-width="1.2" />
<line x1="486.57" y1="212.60" x2="490.27" y2="212.60" stroke="#141414" stroke-width="1.2" />
<path d="M393.60 212.80V210.60H402.00V212.80" stroke="#141414" stroke-width="1.0" fill="none" />
<text x="397.80" y="210.20" font-size="5.6" text-anchor="middle" transform="rotate(0.05 397.80 210.20)">****</text>
<path d="M403.50 212.80V210.60H411.60V212.80" stroke="#141414" stroke-width="1.0" fill="none" />
<text x="407.55" y="210.20" font-size="5.6" text-anchor="middle" transform="rotate(0.05 407.55 210.20)">*</text>
<path d="M413.30 212.80V210.60H421.90V212.80" stroke="#141414" stroke-width="1.0" fill="none" />
<text x="417.60" y="210.20" font-size="5.6" text-anchor="middle" transform="rotate(0.05 417.60 210.20)">*</text>
<path d="M449.00 184.60V182.40H458.10V184.60" stroke="#141414" stroke-width="1.0" fill="none" />
<text x="453.55" y="182.00" font-size="5.6" text-anchor="middle" transform="rotate(0.05 453.55 182.00)">****</text>
<path d="M459.30 184.60V182.40H467.30V184.60" stroke="#141414" stroke-width="1.0" fill="none" />
<text x="463.30" y="182.00" font-size="5.6" text-anchor="middle" transform="rotate(0.05 463.30 182.00)">***</text>
<path d="M468.60 184.60V182.40H477.50V184.60" stroke="#141414" stroke-width="1.0" fill="none" />
<text x="473.05" y="182.00" font-size="5.6" text-anchor="middle" transform="rotate(0.05 473.05 182.00)">*</text>
<text x="413.40" y="259.00" font-size="6.1" text-anchor="middle" transform="rotate(0.05 413.40 259.00)">α-SMA</text>
<text x="469.50" y="259.00" font-size="6.1" text-anchor="middle" transform="rotate(0.05 469.50 259.00)">COL1A1</text>
<rect x="45.65" y="323.90" width="39.80" height="9.95" fill="#f5f5f5" stroke="#050505" stroke-width="1.5"/>
<rect x="45.65" y="334.75" width="39.80" height="11.40" fill="#f5f5f5" stroke="#050505" stroke-width="1.5"/>
<rect x="45.65" y="346.65" width="39.80" height="8.55" fill="#f5f5f5" stroke="#050505" stroke-width="1.5"/>
<rect x="46.25" y="327.90" width="6.70" height="2.00" rx="1.00" fill="#0c0c0c" fill-opacity="0.9" filter="url(#band)"/>
<rect x="53.65" y="327.65" width="6.70" height="2.50" rx="1.25" fill="#0c0c0c" fill-opacity="1" filter="url(#band)"/>
<rect x="61.15" y="327.90" width="6.70" height="2.00" rx="1.00" fill="#0c0c0c" fill-opacity="0.9" filter="url(#band)"/>
<rect x="68.85" y="327.55" width="6.70" height="2.70" rx="1.35" fill="#0c0c0c" fill-opacity="1" filter="url(#band)"/>
<rect x="76.55" y="327.80" width="6.70" height="2.20" rx="1.10" fill="#0c0c0c" fill-opacity="0.95" filter="url(#band)"/>
<rect x="46.10" y="339.40" width="7.00" height="2.40" rx="1.20" fill="#080808" fill-opacity="0.35" filter="url(#band)"/>
<rect x="53.50" y="338.90" width="7.00" height="3.40" rx="1.70" fill="#080808" fill-opacity="1" filter="url(#band)"/>
<rect x="61.00" y="339.05" width="7.00" height="3.10" rx="1.55" fill="#080808" fill-opacity="1" filter="url(#band)"/>
<rect x="68.70" y="338.90" width="7.00" height="3.40" rx="1.70" fill="#080808" fill-opacity="1" filter="url(#band)"/>
<rect x="76.40" y="339.35" width="7.00" height="2.50" rx="1.25" fill="#080808" fill-opacity="0.9" filter="url(#band)"/>
<rect x="46.25" y="350.15" width="6.70" height="2.10" rx="1.05" fill="#0c0c0c" fill-opacity="0.95" filter="url(#band)"/>
<rect x="53.65" y="350.15" width="6.70" height="2.10" rx="1.05" fill="#0c0c0c" fill-opacity="0.95" filter="url(#band)"/>
<rect x="61.15" y="350.20" width="6.70" height="2.00" rx="1.00" fill="#0c0c0c" fill-opacity="0.9" filter="url(#band)"/>
<rect x="68.85" y="350.00" width="6.70" height="2.40" rx="1.20" fill="#0c0c0c" fill-opacity="0.95" filter="url(#band)"/>
<rect x="76.55" y="350.30" width="6.70" height="1.80" rx="0.90" fill="#0c0c0c" fill-opacity="0.9" filter="url(#band)"/>
<text x="42.80" y="330.50" font-size="6.1" text-anchor="end" transform="rotate(0.05 42.80 330.50)">α-SMA</text>
<text x="42.80" y="342.10" font-size="6.1" text-anchor="end" transform="rotate(0.05 42.80 342.10)">COL1A1</text>
<text x="42.80" y="353.10" font-size="6.1" text-anchor="end" transform="rotate(0.05 42.80 353.10)">β-actin</text>
<text x="88.20" y="330.50" font-size="6.1" transform="rotate(0.05 88.20 330.50)">42kDa</text>
<text x="88.20" y="342.10" font-size="6.1" transform="rotate(0.05 88.20 342.10)">139kDa</text>
<text x="88.20" y="353.10" font-size="6.1" transform="rotate(0.05 88.20 353.10)">45kDa</text>
<text x="45.60" y="363.40" font-size="6.1" text-anchor="end" transform="rotate(0.05 45.60 363.40)">TGF-β</text>
<text x="50.90" y="363.50" font-size="5.4" text-anchor="middle" font-weight="bold" transform="rotate(0.05 50.90 363.50)">-</text>
<text x="58.40" y="363.70" font-size="5.0" text-anchor="middle" font-weight="bold" transform="rotate(0.05 58.40 363.70)">+</text>
<text x="65.80" y="363.70" font-size="5.0" text-anchor="middle" font-weight="bold" transform="rotate(0.05 65.80 363.70)">+</text>
<text x="73.20" y="363.70" font-size="5.0" text-anchor="middle" font-weight="bold" transform="rotate(0.05 73.20 363.70)">+</text>
<text x="80.60" y="363.70" font-size="5.0" text-anchor="middle" font-weight="bold" transform="rotate(0.05 80.60 363.70)">+</text>
<text x="45.60" y="369.85" font-size="6.1" text-anchor="end" transform="rotate(0.05 45.60 369.85)">SI-NC</text>
<text x="50.90" y="369.95" font-size="5.4" text-anchor="middle" font-weight="bold" transform="rotate(0.05 50.90 369.95)">-</text>
<text x="58.40" y="370.15" font-size="5.0" text-anchor="middle" font-weight="bold" transform="rotate(0.05 58.40 370.15)">+</text>
<text x="65.80" y="369.95" font-size="5.4" text-anchor="middle" font-weight="bold" transform="rotate(0.05 65.80 369.95)">-</text>
<text x="73.20" y="369.95" font-size="5.4" text-anchor="middle" font-weight="bold" transform="rotate(0.05 73.20 369.95)">-</text>
<text x="80.60" y="369.95" font-size="5.4" text-anchor="middle" font-weight="bold" transform="rotate(0.05 80.60 369.95)">-</text>
<text x="45.60" y="376.30" font-size="6.1" text-anchor="end" transform="rotate(0.05 45.60 376.30)">SI-LIN</text>
<text x="50.90" y="376.40" font-size="5.4" text-anchor="middle" font-weight="bold" transform="rotate(0.05 50.90 376.40)">-</text>
<text x="58.40" y="376.40" font-size="5.4" text-anchor="middle" font-weight="bold" transform="rotate(0.05 58.40 376.40)">-</text>
<text x="65.80" y="376.60" font-size="5.0" text-anchor="middle" font-weight="bold" transform="rotate(0.05 65.80 376.60)">+</text>
<text x="73.20" y="376.60" font-size="5.0" text-anchor="middle" font-weight="bold" transform="rotate(0.05 73.20 376.60)">+</text>
<text x="80.60" y="376.60" font-size="5.0" text-anchor="middle" font-weight="bold" transform="rotate(0.05 80.60 376.60)">+</text>
<text x="45.60" y="382.75" font-size="6.1" text-anchor="end" transform="rotate(0.05 45.60 382.75)">miR-inhibitor</text>
<text x="50.90" y="382.85" font-size="5.4" text-anchor="middle" font-weight="bold" transform="rotate(0.05 50.90 382.85)">-</text>
<text x="58.40" y="382.85" font-size="5.4" text-anchor="middle" font-weight="bold" transform="rotate(0.05 58.40 382.85)">-</text>
<text x="65.80" y="382.85" font-size="5.4" text-anchor="middle" font-weight="bold" transform="rotate(0.05 65.80 382.85)">-</text>
<text x="73.20" y="383.05" font-size="5.0" text-anchor="middle" font-weight="bold" transform="rotate(0.05 73.20 383.05)">+</text>
<text x="80.60" y="382.85" font-size="5.4" text-anchor="middle" font-weight="bold" transform="rotate(0.05 80.60 382.85)">-</text>
<text x="45.60" y="389.20" font-size="6.1" text-anchor="end" transform="rotate(0.05 45.60 389.20)">miR-NC</text>
<text x="50.90" y="389.30" font-size="5.4" text-anchor="middle" font-weight="bold" transform="rotate(0.05 50.90 389.30)">-</text>
<text x="58.40" y="389.30" font-size="5.4" text-anchor="middle" font-weight="bold" transform="rotate(0.05 58.40 389.30)">-</text>
<text x="65.80" y="389.30" font-size="5.4" text-anchor="middle" font-weight="bold" transform="rotate(0.05 65.80 389.30)">-</text>
<text x="73.20" y="389.30" font-size="5.4" text-anchor="middle" font-weight="bold" transform="rotate(0.05 73.20 389.30)">-</text>
<text x="80.60" y="389.50" font-size="5.0" text-anchor="middle" font-weight="bold" transform="rotate(0.05 80.60 389.50)">+</text>
<rect x="127.90" y="305.70" width="9.70" height="5.40" fill="#000000" rx="1.6"/>
<text x="140.60" y="310.45" font-size="6.25" transform="rotate(0.05 140.60 310.45)">BLANK</text>
<rect x="166.50" y="305.70" width="9.70" height="5.40" fill="#7d7d7d" rx="1.6"/>
<text x="179.60" y="310.45" font-size="6.25" transform="rotate(0.05 179.60 310.45)">SI-LIN</text>
<rect x="205.40" y="305.70" width="9.70" height="5.40" fill="#5c5c5c" rx="1.6"/>
<text x="218.30" y="310.45" font-size="6.25" transform="rotate(0.05 218.30 310.45)">SI-LIN+miR-NC</text>
<rect x="127.90" y="315.50" width="9.70" height="5.40" fill="#9b9b9f" rx="1.6"/>
<text x="140.60" y="319.75" font-size="6.25" transform="rotate(0.05 140.60 319.75)">SI-NC</text>
<rect x="166.50" y="315.50" width="9.70" height="5.40" fill="#dedede" rx="1.6"/>
<text x="179.60" y="319.75" font-size="6.25" transform="rotate(0.05 179.60 319.75)">SI-LIN+miR-inhibitor</text>
<line x1="131.20" y1="325.30" x2="131.20" y2="399.10" stroke="#000" stroke-width="1.2" />
<line x1="129.00" y1="326.40" x2="131.20" y2="326.40" stroke="#000" stroke-width="1.2" />
<text x="127.60" y="328.38" font-size="5.5" text-anchor="end" transform="rotate(0.05 127.60 328.38)">2.0</text>
<line x1="129.00" y1="344.43" x2="131.20" y2="344.43" stroke="#000" stroke-width="1.2" />
<text x="127.60" y="346.41" font-size="5.5" text-anchor="end" transform="rotate(0.05 127.60 346.41)">1.5</text>
<line x1="129.00" y1="362.45" x2="131.20" y2="362.45" stroke="#000" stroke-width="1.2" />
<text x="127.60" y="364.43" font-size="5.5" text-anchor="end" transform="rotate(0.05 127.60 364.43)">1.0</text>
<line x1="129.00" y1="380.48" x2="131.20" y2="380.48" stroke="#000" stroke-width="1.2" />
<text x="127.60" y="382.46" font-size="5.5" text-anchor="end" transform="rotate(0.05 127.60 382.46)">0.5</text>
<line x1="129.00" y1="398.50" x2="131.20" y2="398.50" stroke="#000" stroke-width="1.2" />
<text x="127.60" y="400.48" font-size="5.5" text-anchor="end" transform="rotate(0.05 127.60 400.48)">0.0</text>
<line x1="130.60" y1="398.50" x2="238.90" y2="398.50" stroke="#000" stroke-width="1.2" />
<line x1="157.50" y1="398.50" x2="157.50" y2="400.50" stroke="#000" stroke-width="1.2" />
<line x1="213.50" y1="398.50" x2="213.50" y2="400.50" stroke="#000" stroke-width="1.2" />
<text x="117.20" y="362.60" font-size="6.2" text-anchor="middle" transform="rotate(-89.95 117.20 362.60)" textLength="54.1" lengthAdjust="spacingAndGlyphs">Relative expression</text>
<rect x="133.25" y="362.20" width="8.50" height="35.70" fill="#000000"/>
<rect x="143.00" y="345.40" width="8.90" height="52.50" fill="#9b9b9f"/>
<line x1="147.45" y1="345.70" x2="147.45" y2="341.00" stroke="#141414" stroke-width="1.2" />
<line x1="145.50" y1="341.00" x2="149.40" y2="341.00" stroke="#141414" stroke-width="1.2" />
<rect x="153.10" y="355.50" width="8.60" height="42.40" fill="#7d7d7d"/>
<line x1="157.40" y1="355.80" x2="157.40" y2="352.50" stroke="#141414" stroke-width="1.2" />
<line x1="155.45" y1="352.50" x2="159.35" y2="352.50" stroke="#141414" stroke-width="1.2" />
<rect x="162.85" y="347.50" width="9.00" height="50.40" fill="#dedede"/>
<line x1="167.35" y1="347.80" x2="167.35" y2="344.20" stroke="#141414" stroke-width="1.2" />
<line x1="165.40" y1="344.20" x2="169.30" y2="344.20" stroke="#141414" stroke-width="1.2" />
<rect x="173.00" y="358.50" width="8.60" height="39.40" fill="#5c5c5c"/>
<line x1="177.30" y1="358.80" x2="177.30" y2="355.30" stroke="#141414" stroke-width="1.2" />
<line x1="175.35" y1="355.30" x2="179.25" y2="355.30" stroke="#141414" stroke-width="1.2" />
<rect x="188.95" y="362.20" width="8.50" height="35.70" fill="#000000"/>
<rect x="198.75" y="343.00" width="8.90" height="54.90" fill="#9b9b9f"/>
<line x1="203.20" y1="343.30" x2="203.20" y2="339.00" stroke="#141414" stroke-width="1.2" />
<line x1="201.25" y1="339.00" x2="205.15" y2="339.00" stroke="#141414" stroke-width="1.2" />
<rect x="208.90" y="352.40" width="8.60" height="45.50" fill="#7d7d7d"/>
<line x1="213.20" y1="352.70" x2="213.20" y2="351.20" stroke="#141414" stroke-width="1.2" />
<line x1="211.25" y1="351.20" x2="215.15" y2="351.20" stroke="#141414" stroke-width="1.2" />
<rect x="218.70" y="345.50" width="9.00" height="52.40" fill="#dedede"/>
<line x1="223.20" y1="345.80" x2="223.20" y2="343.00" stroke="#141414" stroke-width="1.2" />
<line x1="221.25" y1="343.00" x2="225.15" y2="343.00" stroke="#141414" stroke-width="1.2" />
<rect x="228.90" y="354.50" width="8.60" height="43.40" fill="#5c5c5c"/>
<line x1="233.20" y1="354.80" x2="233.20" y2="352.30" stroke="#141414" stroke-width="1.2" />
<line x1="231.25" y1="352.30" x2="235.15" y2="352.30" stroke="#141414" stroke-width="1.2" />
<path d="M138.30 338.90V336.30H147.30V338.90" stroke="#141414" stroke-width="1.0" fill="none" />
<text x="142.80" y="336.00" font-size="5.6" text-anchor="middle" transform="rotate(0.05 142.80 336.00)">****</text>
<path d="M148.50 338.90V336.30H157.00V338.90" stroke="#141414" stroke-width="1.0" fill="none" />
<text x="152.75" y="336.00" font-size="5.6" text-anchor="middle" transform="rotate(0.05 152.75 336.00)">*</text>
<path d="M158.60 338.90V336.30H166.80V338.90" stroke="#141414" stroke-width="1.0" fill="none" />
<text x="162.70" y="336.00" font-size="5.6" text-anchor="middle" transform="rotate(0.05 162.70 336.00)">*</text>
<path d="M193.90 337.60V335.00H203.20V337.60" stroke="#141414" stroke-width="1.0" fill="none" />
<text x="198.55" y="334.70" font-size="5.6" text-anchor="middle" transform="rotate(0.05 198.55 334.70)">****</text>
<path d="M204.20 337.60V335.00H212.70V337.60" stroke="#141414" stroke-width="1.0" fill="none" />
<text x="208.45" y="334.70" font-size="5.6" text-anchor="middle" transform="rotate(0.05 208.45 334.70)">**</text>
<path d="M214.40 337.60V335.00H222.90V337.60" stroke="#141414" stroke-width="1.0" fill="none" />
<text x="218.65" y="334.70" font-size="5.6" text-anchor="middle" transform="rotate(0.05 218.65 334.70)">*</text>
<text x="158.30" y="406.80" font-size="6.1" text-anchor="middle" transform="rotate(0.05 158.30 406.80)">α-SMA</text>
<text x="213.80" y="406.80" font-size="6.1" text-anchor="middle" transform="rotate(0.05 213.80 406.80)">COL1A1</text>
<rect x="300.60" y="317.65" width="39.60" height="10.20" fill="url(#ecad)" stroke="#050505" stroke-width="1.5"/>
<rect x="300.60" y="328.55" width="39.60" height="10.90" fill="#f5f5f5" stroke="#050505" stroke-width="1.5"/>
<rect x="300.60" y="339.85" width="39.60" height="10.60" fill="#f5f5f5" stroke="#050505" stroke-width="1.5"/>
<rect x="300.60" y="351.05" width="39.60" height="10.00" fill="#f5f5f5" stroke="#050505" stroke-width="1.5"/>
<rect x="301.60" y="322.40" width="6.80" height="2.40" rx="1.20" fill="#080808" fill-opacity="1" filter="url(#band)"/>
<rect x="309.10" y="322.55" width="6.80" height="2.10" rx="1.05" fill="#080808" fill-opacity="0.95" filter="url(#band)"/>
<rect x="316.60" y="322.25" width="6.80" height="2.70" rx="1.35" fill="#080808" fill-opacity="1" filter="url(#band)"/>
<rect x="324.30" y="322.65" width="6.80" height="1.90" rx="0.95" fill="#080808" fill-opacity="0.33" filter="url(#band)"/>
<rect x="331.80" y="322.15" width="6.80" height="2.90" rx="1.45" fill="#080808" fill-opacity="1" filter="url(#band)"/>
<rect x="301.55" y="332.75" width="6.90" height="2.30" rx="1.15" fill="#0a0a0a" fill-opacity="0.95" filter="url(#band)"/>
<rect x="309.05" y="332.65" width="6.90" height="2.50" rx="1.25" fill="#0a0a0a" fill-opacity="1" filter="url(#band)"/>
<rect x="316.55" y="332.80" width="6.90" height="2.20" rx="1.10" fill="#0a0a0a" fill-opacity="0.95" filter="url(#band)"/>
<rect x="324.25" y="332.65" width="6.90" height="2.50" rx="1.25" fill="#0a0a0a" fill-opacity="1" filter="url(#band)"/>
<rect x="331.75" y="332.85" width="6.90" height="2.10" rx="1.05" fill="#0a0a0a" fill-opacity="0.9" filter="url(#band)"/>
<rect x="301.55" y="343.90" width="6.90" height="2.00" rx="1.00" fill="#0a0a0a" fill-opacity="0.9" filter="url(#band)"/>
<rect x="309.05" y="343.65" width="6.90" height="2.50" rx="1.25" fill="#0a0a0a" fill-opacity="1" filter="url(#band)"/>
<rect x="316.55" y="343.80" width="6.90" height="2.20" rx="1.10" fill="#0a0a0a" fill-opacity="0.95" filter="url(#band)"/>
<rect x="324.25" y="343.75" width="6.90" height="2.30" rx="1.15" fill="#0a0a0a" fill-opacity="0.95" filter="url(#band)"/>
<rect x="331.75" y="343.85" width="6.90" height="2.10" rx="1.05" fill="#0a0a0a" fill-opacity="0.9" filter="url(#band)"/>
<rect x="301.60" y="355.35" width="6.80" height="2.10" rx="1.05" fill="#0a0a0a" fill-opacity="0.95" filter="url(#band)"/>
<rect x="309.10" y="355.35" width="6.80" height="2.10" rx="1.05" fill="#0a0a0a" fill-opacity="0.95" filter="url(#band)"/>
<rect x="316.60" y="355.20" width="6.80" height="2.40" rx="1.20" fill="#0a0a0a" fill-opacity="1" filter="url(#band)"/>
<rect x="324.30" y="355.20" width="6.80" height="2.40" rx="1.20" fill="#0a0a0a" fill-opacity="1" filter="url(#band)"/>
<rect x="331.80" y="355.30" width="6.80" height="2.20" rx="1.10" fill="#0a0a0a" fill-opacity="0.95" filter="url(#band)"/>
<text x="295.80" y="325.50" font-size="6.1" text-anchor="end" transform="rotate(0.05 295.80 325.50)">E-cad</text>
<text x="343.60" y="325.50" font-size="6.1" transform="rotate(0.05 343.60 325.50)">135kDa</text>
<text x="295.80" y="335.80" font-size="6.1" text-anchor="end" transform="rotate(0.05 295.80 335.80)">desmin</text>
<text x="343.60" y="335.80" font-size="6.1" transform="rotate(0.05 343.60 335.80)">53kDa</text>
<text x="295.80" y="346.40" font-size="6.1" text-anchor="end" transform="rotate(0.05 295.80 346.40)">vimentin</text>
<text x="343.60" y="346.40" font-size="6.1" transform="rotate(0.05 343.60 346.40)">57kDa</text>
<text x="295.80" y="357.70" font-size="6.1" text-anchor="end" transform="rotate(0.05 295.80 357.70)">β-actin</text>
<text x="343.60" y="357.70" font-size="6.1" transform="rotate(0.05 343.60 357.70)">45kDa</text>
<text x="300.40" y="368.30" font-size="6.1" text-anchor="end" transform="rotate(0.05 300.40 368.30)">TGF-β</text>
<text x="305.10" y="368.40" font-size="5.4" text-anchor="middle" font-weight="bold" transform="rotate(0.05 305.10 368.40)">-</text>
<text x="312.40" y="368.60" font-size="5.0" text-anchor="middle" font-weight="bold" transform="rotate(0.05 312.40 368.60)">+</text>
<text x="319.80" y="368.60" font-size="5.0" text-anchor="middle" font-weight="bold" transform="rotate(0.05 319.80 368.60)">+</text>
<text x="327.30" y="368.60" font-size="5.0" text-anchor="middle" font-weight="bold" transform="rotate(0.05 327.30 368.60)">+</text>
<text x="334.80" y="368.60" font-size="5.0" text-anchor="middle" font-weight="bold" transform="rotate(0.05 334.80 368.60)">+</text>
<text x="300.40" y="374.60" font-size="6.1" text-anchor="end" transform="rotate(0.05 300.40 374.60)">SI-NC</text>
<text x="305.10" y="374.70" font-size="5.4" text-anchor="middle" font-weight="bold" transform="rotate(0.05 305.10 374.70)">-</text>
<text x="312.40" y="374.90" font-size="5.0" text-anchor="middle" font-weight="bold" transform="rotate(0.05 312.40 374.90)">+</text>
<text x="319.80" y="374.70" font-size="5.4" text-anchor="middle" font-weight="bold" transform="rotate(0.05 319.80 374.70)">-</text>
<text x="327.30" y="374.70" font-size="5.4" text-anchor="middle" font-weight="bold" transform="rotate(0.05 327.30 374.70)">-</text>
<text x="334.80" y="374.70" font-size="5.4" text-anchor="middle" font-weight="bold" transform="rotate(0.05 334.80 374.70)">-</text>
<text x="300.40" y="380.90" font-size="6.1" text-anchor="end" transform="rotate(0.05 300.40 380.90)">SI-LIN</text>
<text x="305.10" y="381.00" font-size="5.4" text-anchor="middle" font-weight="bold" transform="rotate(0.05 305.10 381.00)">-</text>
<text x="312.40" y="381.00" font-size="5.4" text-anchor="middle" font-weight="bold" transform="rotate(0.05 312.40 381.00)">-</text>
<text x="319.80" y="381.20" font-size="5.0" text-anchor="middle" font-weight="bold" transform="rotate(0.05 319.80 381.20)">+</text>
<text x="327.30" y="381.20" font-size="5.0" text-anchor="middle" font-weight="bold" transform="rotate(0.05 327.30 381.20)">+</text>
<text x="334.80" y="381.20" font-size="5.0" text-anchor="middle" font-weight="bold" transform="rotate(0.05 334.80 381.20)">+</text>
<text x="300.40" y="387.20" font-size="6.1" text-anchor="end" transform="rotate(0.05 300.40 387.20)">miR-inhibitor</text>
<text x="305.10" y="387.30" font-size="5.4" text-anchor="middle" font-weight="bold" transform="rotate(0.05 305.10 387.30)">-</text>
<text x="312.40" y="387.30" font-size="5.4" text-anchor="middle" font-weight="bold" transform="rotate(0.05 312.40 387.30)">-</text>
<text x="319.80" y="387.30" font-size="5.4" text-anchor="middle" font-weight="bold" transform="rotate(0.05 319.80 387.30)">-</text>
<text x="327.30" y="387.50" font-size="5.0" text-anchor="middle" font-weight="bold" transform="rotate(0.05 327.30 387.50)">+</text>
<text x="334.80" y="387.30" font-size="5.4" text-anchor="middle" font-weight="bold" transform="rotate(0.05 334.80 387.30)">-</text>
<text x="300.40" y="393.50" font-size="6.1" text-anchor="end" transform="rotate(0.05 300.40 393.50)">miR-NC</text>
<text x="305.10" y="393.60" font-size="5.4" text-anchor="middle" font-weight="bold" transform="rotate(0.05 305.10 393.60)">-</text>
<text x="312.40" y="393.60" font-size="5.4" text-anchor="middle" font-weight="bold" transform="rotate(0.05 312.40 393.60)">-</text>
<text x="319.80" y="393.60" font-size="5.4" text-anchor="middle" font-weight="bold" transform="rotate(0.05 319.80 393.60)">-</text>
<text x="327.30" y="393.60" font-size="5.4" text-anchor="middle" font-weight="bold" transform="rotate(0.05 327.30 393.60)">-</text>
<text x="334.80" y="393.80" font-size="5.0" text-anchor="middle" font-weight="bold" transform="rotate(0.05 334.80 393.80)">+</text>
<rect x="377.90" y="305.75" width="10.00" height="5.50" fill="#000000" rx="1.6"/>
<text x="391.00" y="310.25" font-size="6.25" transform="rotate(0.05 391.00 310.25)">BLANK</text>
<rect x="417.20" y="305.75" width="10.00" height="5.50" fill="#7d7d7d" rx="1.6"/>
<text x="429.80" y="310.25" font-size="6.25" transform="rotate(0.05 429.80 310.25)">SI-LIN</text>
<rect x="455.20" y="305.75" width="10.00" height="5.50" fill="#5c5c5c" rx="1.6"/>
<text x="468.50" y="310.25" font-size="6.25" transform="rotate(0.05 468.50 310.25)">SI-LIN+miR-NC</text>
<rect x="377.90" y="315.45" width="10.00" height="5.50" fill="#9b9b9f" rx="1.6"/>
<text x="391.00" y="320.05" font-size="6.25" transform="rotate(0.05 391.00 320.05)">SI-NC</text>
<rect x="417.20" y="315.45" width="10.00" height="5.50" fill="#dedede" rx="1.6"/>
<text x="429.80" y="320.05" font-size="6.25" transform="rotate(0.05 429.80 320.05)">SI-LIN+miR-inhibitor</text>
<line x1="386.00" y1="324.90" x2="386.00" y2="399.00" stroke="#000" stroke-width="1.2" />
<line x1="383.80" y1="326.25" x2="386.00" y2="326.25" stroke="#000" stroke-width="1.2" />
<text x="382.30" y="328.23" font-size="5.5" text-anchor="end" transform="rotate(0.05 382.30 328.23)">1.5</text>
<line x1="383.80" y1="350.30" x2="386.00" y2="350.30" stroke="#000" stroke-width="1.2" />
<text x="382.30" y="352.28" font-size="5.5" text-anchor="end" transform="rotate(0.05 382.30 352.28)">1.0</text>
<line x1="383.80" y1="374.35" x2="386.00" y2="374.35" stroke="#000" stroke-width="1.2" />
<text x="382.30" y="376.33" font-size="5.5" text-anchor="end" transform="rotate(0.05 382.30 376.33)">0.5</text>
<line x1="383.80" y1="398.40" x2="386.00" y2="398.40" stroke="#000" stroke-width="1.2" />
<text x="382.30" y="400.38" font-size="5.5" text-anchor="end" transform="rotate(0.05 382.30 400.38)">0.0</text>
<line x1="385.40" y1="398.40" x2="494.10" y2="398.40" stroke="#000" stroke-width="1.2" />
<line x1="403.00" y1="398.40" x2="403.00" y2="400.40" stroke="#000" stroke-width="1.2" />
<line x1="440.00" y1="398.40" x2="440.00" y2="400.40" stroke="#000" stroke-width="1.2" />
<line x1="476.80" y1="398.40" x2="476.80" y2="400.40" stroke="#000" stroke-width="1.2" />
<text x="371.20" y="362.90" font-size="6.2" text-anchor="middle" transform="rotate(-89.95 371.20 362.90)" textLength="54.6" lengthAdjust="spacingAndGlyphs">Relative expression</text>
<rect x="386.85" y="349.90" width="5.80" height="47.90" fill="#000000"/>
<rect x="393.05" y="358.50" width="6.60" height="39.30" fill="#9b9b9f"/>
<line x1="396.35" y1="358.80" x2="396.35" y2="355.20" stroke="#141414" stroke-width="0.9" />
<line x1="394.85" y1="355.20" x2="397.85" y2="355.20" stroke="#141414" stroke-width="0.9" />
<rect x="399.65" y="350.60" width="6.60" height="47.20" fill="#7d7d7d"/>
<line x1="402.95" y1="350.90" x2="402.95" y2="347.80" stroke="#141414" stroke-width="0.9" />
<line x1="401.45" y1="347.80" x2="404.45" y2="347.80" stroke="#141414" stroke-width="0.9" />
<rect x="406.30" y="365.80" width="6.50" height="32.00" fill="#dedede"/>
<line x1="409.55" y1="366.10" x2="409.55" y2="363.60" stroke="#141414" stroke-width="0.9" />
<line x1="408.05" y1="363.60" x2="411.05" y2="363.60" stroke="#141414" stroke-width="0.9" />
<rect x="413.10" y="353.20" width="6.10" height="44.60" fill="#5c5c5c"/>
<line x1="416.15" y1="353.50" x2="416.15" y2="348.60" stroke="#141414" stroke-width="0.9" />
<line x1="414.65" y1="348.60" x2="417.65" y2="348.60" stroke="#141414" stroke-width="0.9" />
<rect x="423.95" y="349.90" width="5.80" height="47.90" fill="#000000"/>
<rect x="430.05" y="335.50" width="6.60" height="62.30" fill="#9b9b9f"/>
<line x1="433.35" y1="335.80" x2="433.35" y2="330.60" stroke="#141414" stroke-width="0.9" />
<line x1="431.85" y1="330.60" x2="434.85" y2="330.60" stroke="#141414" stroke-width="0.9" />
<rect x="436.55" y="349.10" width="6.60" height="48.70" fill="#7d7d7d"/>
<line x1="439.85" y1="349.40" x2="439.85" y2="345.00" stroke="#141414" stroke-width="0.9" />
<line x1="438.35" y1="345.00" x2="441.35" y2="345.00" stroke="#141414" stroke-width="0.9" />
<rect x="443.10" y="341.00" width="6.50" height="56.80" fill="#dedede"/>
<line x1="446.35" y1="341.30" x2="446.35" y2="338.40" stroke="#141414" stroke-width="0.9" />
<line x1="444.85" y1="338.40" x2="447.85" y2="338.40" stroke="#141414" stroke-width="0.9" />
<rect x="449.80" y="346.20" width="6.10" height="51.60" fill="#5c5c5c"/>
<line x1="452.85" y1="346.50" x2="452.85" y2="343.20" stroke="#141414" stroke-width="0.9" />
<line x1="451.35" y1="343.20" x2="454.35" y2="343.20" stroke="#141414" stroke-width="0.9" />
<rect x="460.65" y="349.90" width="5.80" height="47.90" fill="#000000"/>
<rect x="466.80" y="334.70" width="6.60" height="63.10" fill="#9b9b9f"/>
<line x1="470.10" y1="335.00" x2="470.10" y2="331.80" stroke="#141414" stroke-width="0.9" />
<line x1="468.60" y1="331.80" x2="471.60" y2="331.80" stroke="#141414" stroke-width="0.9" />
<rect x="473.35" y="347.00" width="6.60" height="50.80" fill="#7d7d7d"/>
<line x1="476.65" y1="347.30" x2="476.65" y2="346.40" stroke="#141414" stroke-width="0.9" />
<line x1="475.15" y1="346.40" x2="478.15" y2="346.40" stroke="#141414" stroke-width="0.9" />
<rect x="479.95" y="338.00" width="6.50" height="59.80" fill="#dedede"/>
<line x1="483.20" y1="338.30" x2="483.20" y2="332.80" stroke="#141414" stroke-width="0.9" />
<line x1="481.70" y1="332.80" x2="484.70" y2="332.80" stroke="#141414" stroke-width="0.9" />
<rect x="486.70" y="348.20" width="6.10" height="49.60" fill="#5c5c5c"/>
<line x1="489.75" y1="348.50" x2="489.75" y2="342.10" stroke="#141414" stroke-width="0.9" />
<line x1="488.25" y1="342.10" x2="491.25" y2="342.10" stroke="#141414" stroke-width="0.9" />
<path d="M389.60 346.20V344.20H396.20V346.20" stroke="#141414" stroke-width="0.75" fill="none" />
<text x="392.90" y="344.00" font-size="5.2" text-anchor="middle" transform="rotate(0.05 392.90 344.00)">*</text>
<path d="M396.80 346.20V344.20H402.80V346.20" stroke="#141414" stroke-width="0.75" fill="none" />
<text x="399.80" y="344.00" font-size="5.2" text-anchor="middle" transform="rotate(0.05 399.80 344.00)">*</text>
<path d="M403.50 346.20V344.20H409.80V346.20" stroke="#141414" stroke-width="0.75" fill="none" />
<text x="406.65" y="344.00" font-size="5.2" text-anchor="middle" transform="rotate(0.05 406.65 344.00)">***</text>
<path d="M426.50 329.40V327.40H433.20V329.40" stroke="#141414" stroke-width="0.75" fill="none" />
<text x="429.85" y="327.20" font-size="5.2" text-anchor="middle" transform="rotate(0.05 429.85 327.20)">**</text>
<path d="M433.80 329.40V327.40H439.90V329.40" stroke="#141414" stroke-width="0.75" fill="none" />
<text x="436.85" y="327.20" font-size="5.2" text-anchor="middle" transform="rotate(0.05 436.85 327.20)">**</text>
<path d="M440.50 329.40V327.40H446.60V329.40" stroke="#141414" stroke-width="0.75" fill="none" />
<text x="443.55" y="327.20" font-size="5.2" text-anchor="middle" transform="rotate(0.05 443.55 327.20)">*</text>
<path d="M463.00 330.50V328.50H470.30V330.50" stroke="#141414" stroke-width="0.75" fill="none" />
<text x="466.65" y="328.30" font-size="5.2" text-anchor="middle" transform="rotate(0.05 466.65 328.30)">**</text>
<path d="M470.90 330.50V328.50H476.90V330.50" stroke="#141414" stroke-width="0.75" fill="none" />
<text x="473.90" y="328.30" font-size="5.2" text-anchor="middle" transform="rotate(0.05 473.90 328.30)">**</text>
<path d="M477.50 330.50V328.50H483.50V330.50" stroke="#141414" stroke-width="0.75" fill="none" />
<text x="480.50" y="328.30" font-size="5.2" text-anchor="middle" transform="rotate(0.05 480.50 328.30)">*</text>
<text x="403.40" y="406.60" font-size="6.1" text-anchor="middle" transform="rotate(0.05 403.40 406.60)">E-cad</text>
<text x="440.20" y="406.60" font-size="6.1" text-anchor="middle" transform="rotate(0.05 440.20 406.60)">desmin</text>
<text x="477.60" y="406.60" font-size="6.1" text-anchor="middle" transform="rotate(0.05 477.60 406.60)">vimentin</text>
<rect x="83.30" y="445.20" width="38.50" height="28.30" fill="#797979"/>
<rect x="83.30" y="445.20" width="5.30" height="28.30" fill="#7e7e7e"/>
<rect x="114.80" y="445.20" width="7.00" height="28.30" fill="#7e7e7e"/>
<rect x="83.30" y="445.20" width="5.30" height="28.3" fill="#fff" filter="url(#noise)" opacity="0.30"/>
<rect x="114.80" y="445.20" width="7.00" height="28.3" fill="#fff" filter="url(#noise)" opacity="0.30"/>
<rect x="88.60" y="445.20" width="26.20" height="28.3" fill="#fff" filter="url(#noise)" opacity="0.08"/>
<line x1="88.60" y1="445.20" x2="88.60" y2="473.50" stroke="#343434" stroke-width="0.55" />
<line x1="114.80" y1="445.20" x2="114.80" y2="473.50" stroke="#343434" stroke-width="0.55" />
<line x1="85.70" y1="447.20" x2="85.70" y2="467.50" stroke="#949494" stroke-width="0.6" />
<line x1="117.40" y1="472.10" x2="120.60" y2="472.10" stroke="#d8383c" stroke-width="0.9" />
<rect x="126.70" y="445.20" width="38.50" height="28.30" fill="#7a7a7a"/>
<rect x="126.70" y="445.20" width="5.40" height="28.30" fill="#7f7f7f"/>
<rect x="158.10" y="445.20" width="7.10" height="28.30" fill="#7f7f7f"/>
<rect x="126.70" y="445.20" width="5.40" height="28.3" fill="#fff" filter="url(#noise)" opacity="0.30"/>
<rect x="158.10" y="445.20" width="7.10" height="28.3" fill="#fff" filter="url(#noise)" opacity="0.30"/>
<rect x="132.10" y="445.20" width="26.00" height="28.3" fill="#fff" filter="url(#noise)" opacity="0.08"/>
<line x1="132.10" y1="445.20" x2="132.10" y2="473.50" stroke="#343434" stroke-width="0.55" />
<line x1="158.10" y1="445.20" x2="158.10" y2="473.50" stroke="#343434" stroke-width="0.55" />
<line x1="129.10" y1="447.20" x2="129.10" y2="467.50" stroke="#949494" stroke-width="0.6" />
<line x1="160.80" y1="472.10" x2="164.00" y2="472.10" stroke="#d8383c" stroke-width="0.9" />
<rect x="170.10" y="445.20" width="38.50" height="28.30" fill="#6c6c6c"/>
<rect x="170.10" y="445.20" width="2.40" height="28.30" fill="#747474"/>
<rect x="203.00" y="445.20" width="5.60" height="28.30" fill="#747474"/>
<rect x="170.10" y="445.20" width="2.40" height="28.3" fill="#fff" filter="url(#noise)" opacity="0.30"/>
<rect x="203.00" y="445.20" width="5.60" height="28.3" fill="#fff" filter="url(#noise)" opacity="0.30"/>
<rect x="172.50" y="445.20" width="30.50" height="28.3" fill="#fff" filter="url(#noise)" opacity="0.08"/>
<line x1="172.50" y1="446.20" x2="172.50" y2="471.50" stroke="#a8a8a8" stroke-width="0.7" />
<line x1="203.00" y1="445.20" x2="203.00" y2="473.50" stroke="#343434" stroke-width="0.55" />
<line x1="204.20" y1="472.10" x2="207.40" y2="472.10" stroke="#d8383c" stroke-width="0.9" />
<rect x="213.20" y="445.20" width="38.50" height="28.30" fill="#7c7c7c"/>
<rect x="213.20" y="445.20" width="5.70" height="28.30" fill="#818181"/>
<rect x="246.20" y="445.20" width="5.50" height="28.30" fill="#818181"/>
<rect x="213.20" y="445.20" width="5.70" height="28.3" fill="#fff" filter="url(#noise)" opacity="0.30"/>
<rect x="246.20" y="445.20" width="5.50" height="28.3" fill="#fff" filter="url(#noise)" opacity="0.30"/>
<rect x="218.90" y="445.20" width="27.30" height="28.3" fill="#fff" filter="url(#noise)" opacity="0.08"/>
<line x1="218.90" y1="445.20" x2="218.90" y2="473.50" stroke="#343434" stroke-width="0.55" />
<line x1="246.20" y1="445.20" x2="246.20" y2="473.50" stroke="#343434" stroke-width="0.55" />
<line x1="247.30" y1="472.10" x2="250.50" y2="472.10" stroke="#d8383c" stroke-width="0.9" />
<rect x="256.50" y="445.20" width="38.50" height="28.30" fill="#7d7d7d"/>
<rect x="256.50" y="445.20" width="6.60" height="28.30" fill="#828282"/>
<rect x="289.90" y="445.20" width="5.10" height="28.30" fill="#828282"/>
<rect x="256.50" y="445.20" width="6.60" height="28.3" fill="#fff" filter="url(#noise)" opacity="0.30"/>
<rect x="289.90" y="445.20" width="5.10" height="28.3" fill="#fff" filter="url(#noise)" opacity="0.30"/>
<rect x="263.10" y="445.20" width="26.80" height="28.3" fill="#fff" filter="url(#noise)" opacity="0.08"/>
<line x1="263.10" y1="445.20" x2="263.10" y2="473.50" stroke="#343434" stroke-width="0.55" />
<line x1="289.90" y1="445.20" x2="289.90" y2="473.50" stroke="#343434" stroke-width="0.55" />
<line x1="290.60" y1="472.10" x2="293.80" y2="472.10" stroke="#d8383c" stroke-width="0.9" />
<rect x="83.30" y="479.00" width="38.50" height="28.30" fill="#6d7171"/>
<rect x="83.30" y="479.00" width="8.80" height="28.30" fill="#727676"/>
<rect x="114.70" y="479.00" width="7.10" height="28.30" fill="#727676"/>
<rect x="83.30" y="479.00" width="8.80" height="28.3" fill="#fff" filter="url(#noise)" opacity="0.30"/>
<rect x="114.70" y="479.00" width="7.10" height="28.3" fill="#fff" filter="url(#noise)" opacity="0.30"/>
<rect x="92.10" y="479.00" width="22.60" height="28.3" fill="#fff" filter="url(#noise)" opacity="0.08"/>
<line x1="92.10" y1="479.00" x2="92.10" y2="507.30" stroke="#343434" stroke-width="0.55" />
<line x1="114.70" y1="479.00" x2="114.70" y2="507.30" stroke="#343434" stroke-width="0.55" />
<rect x="126.70" y="479.00" width="38.50" height="28.30" fill="#727373"/>
<rect x="126.70" y="479.00" width="12.40" height="28.30" fill="#777878"/>
<rect x="153.70" y="479.00" width="11.50" height="28.30" fill="#777878"/>
<rect x="126.70" y="479.00" width="12.40" height="28.3" fill="#fff" filter="url(#noise)" opacity="0.30"/>
<rect x="153.70" y="479.00" width="11.50" height="28.3" fill="#fff" filter="url(#noise)" opacity="0.30"/>
<rect x="139.10" y="479.00" width="14.60" height="28.3" fill="#fff" filter="url(#noise)" opacity="0.08"/>
<line x1="139.10" y1="479.00" x2="139.10" y2="507.30" stroke="#343434" stroke-width="0.55" />
<line x1="153.70" y1="479.00" x2="153.70" y2="507.30" stroke="#343434" stroke-width="0.55" />
<line x1="160.80" y1="505.90" x2="164.00" y2="505.90" stroke="#d8383c" stroke-width="0.9" />
<rect x="170.10" y="479.00" width="38.50" height="28.30" fill="#747676"/>
<rect x="170.10" y="479.00" width="8.80" height="28.30" fill="#797b7b"/>
<rect x="198.70" y="479.00" width="9.90" height="28.30" fill="#797b7b"/>
<rect x="170.10" y="479.00" width="8.80" height="28.3" fill="#fff" filter="url(#noise)" opacity="0.30"/>
<rect x="198.70" y="479.00" width="9.90" height="28.3" fill="#fff" filter="url(#noise)" opacity="0.30"/>
<rect x="178.90" y="479.00" width="19.80" height="28.3" fill="#fff" filter="url(#noise)" opacity="0.08"/>
<line x1="178.90" y1="479.00" x2="178.90" y2="507.30" stroke="#343434" stroke-width="0.55" />
<line x1="198.70" y1="479.00" x2="198.70" y2="507.30" stroke="#343434" stroke-width="0.55" />
<line x1="204.20" y1="505.90" x2="207.40" y2="505.90" stroke="#d8383c" stroke-width="0.9" />
<rect x="213.20" y="479.00" width="38.50" height="28.30" fill="#707070"/>
<rect x="213.20" y="479.00" width="10.10" height="28.30" fill="#757575"/>
<rect x="239.80" y="479.00" width="11.90" height="28.30" fill="#757575"/>
<rect x="213.20" y="479.00" width="10.10" height="28.3" fill="#fff" filter="url(#noise)" opacity="0.30"/>
<rect x="239.80" y="479.00" width="11.90" height="28.3" fill="#fff" filter="url(#noise)" opacity="0.30"/>
<rect x="223.30" y="479.00" width="16.50" height="28.3" fill="#fff" filter="url(#noise)" opacity="0.08"/>
<line x1="223.30" y1="479.00" x2="223.30" y2="507.30" stroke="#343434" stroke-width="0.55" />
<line x1="239.80" y1="479.00" x2="239.80" y2="507.30" stroke="#343434" stroke-width="0.55" />
<line x1="247.30" y1="505.90" x2="250.50" y2="505.90" stroke="#d8383c" stroke-width="0.9" />
<rect x="256.50" y="479.00" width="38.50" height="28.30" fill="#6c6c6c"/>
<rect x="256.50" y="479.00" width="8.90" height="28.30" fill="#717171"/>
<rect x="285.80" y="479.00" width="9.20" height="28.30" fill="#717171"/>
<rect x="256.50" y="479.00" width="8.90" height="28.3" fill="#fff" filter="url(#noise)" opacity="0.30"/>
<rect x="285.80" y="479.00" width="9.20" height="28.3" fill="#fff" filter="url(#noise)" opacity="0.30"/>
<rect x="265.40" y="479.00" width="20.40" height="28.3" fill="#fff" filter="url(#noise)" opacity="0.08"/>
<line x1="265.40" y1="479.00" x2="265.40" y2="507.30" stroke="#343434" stroke-width="0.55" />
<line x1="285.80" y1="479.00" x2="285.80" y2="507.30" stroke="#343434" stroke-width="0.55" />
<line x1="290.60" y1="505.90" x2="293.80" y2="505.90" stroke="#d8383c" stroke-width="0.9" />
<text x="78.20" y="460.40" font-size="6.1" text-anchor="end" transform="rotate(0.05 78.20 460.40)">0h</text>
<text x="78.20" y="494.60" font-size="6.1" text-anchor="end" transform="rotate(0.05 78.20 494.60)">48h</text>
<text x="102.70" y="519.20" font-size="6.1" text-anchor="middle" transform="rotate(0.05 102.70 519.20)">BLANK</text>
<text x="143.80" y="519.20" font-size="6.1" text-anchor="middle" transform="rotate(0.05 143.80 519.20)">SI-NC</text>
<text x="189.20" y="519.20" font-size="6.1" text-anchor="middle" transform="rotate(0.05 189.20 519.20)">SI-LIN</text>
<text x="232.70" y="516.30" font-size="6.1" text-anchor="middle" transform="rotate(0.05 232.70 516.30)">SI-LIN+</text>
<text x="232.70" y="524.40" font-size="6.1" text-anchor="middle" transform="rotate(0.05 232.70 524.40)">miR-inhibitor</text>
<text x="275.80" y="516.30" font-size="6.1" text-anchor="middle" transform="rotate(0.05 275.80 516.30)">SI-LIN+</text>
<text x="275.80" y="524.40" font-size="6.1" text-anchor="middle" transform="rotate(0.05 275.80 524.40)">miR-NC</text>
<line x1="341.90" y1="431.00" x2="341.90" y2="501.30" stroke="#000" stroke-width="1.2" />
<line x1="339.70" y1="431.70" x2="341.90" y2="431.70" stroke="#000" stroke-width="1.2" />
<text x="338.90" y="433.90" font-size="6.1" text-anchor="end" transform="rotate(0.05 338.90 433.90)">0.5</text>
<line x1="339.70" y1="445.50" x2="341.90" y2="445.50" stroke="#000" stroke-width="1.2" />
<text x="338.90" y="447.70" font-size="6.1" text-anchor="end" transform="rotate(0.05 338.90 447.70)">0.4</text>
<line x1="339.70" y1="459.30" x2="341.90" y2="459.30" stroke="#000" stroke-width="1.2" />
<text x="338.90" y="461.50" font-size="6.1" text-anchor="end" transform="rotate(0.05 338.90 461.50)">0.3</text>
<line x1="339.70" y1="473.10" x2="341.90" y2="473.10" stroke="#000" stroke-width="1.2" />
<text x="338.90" y="475.30" font-size="6.1" text-anchor="end" transform="rotate(0.05 338.90 475.30)">0.2</text>
<line x1="339.70" y1="486.90" x2="341.90" y2="486.90" stroke="#000" stroke-width="1.2" />
<text x="338.90" y="489.10" font-size="6.1" text-anchor="end" transform="rotate(0.05 338.90 489.10)">0.1</text>
<line x1="339.70" y1="500.70" x2="341.90" y2="500.70" stroke="#000" stroke-width="1.2" />
<text x="338.90" y="502.90" font-size="6.1" text-anchor="end" transform="rotate(0.05 338.90 502.90)">0.0</text>
<line x1="341.30" y1="500.70" x2="446.40" y2="500.70" stroke="#000" stroke-width="1.2" />
<line x1="354.90" y1="500.70" x2="354.90" y2="502.70" stroke="#000" stroke-width="1.2" />
<line x1="374.40" y1="500.70" x2="374.40" y2="502.70" stroke="#000" stroke-width="1.2" />
<line x1="394.00" y1="500.70" x2="394.00" y2="502.70" stroke="#000" stroke-width="1.2" />
<line x1="413.60" y1="500.70" x2="413.60" y2="502.70" stroke="#000" stroke-width="1.2" />
<line x1="433.30" y1="500.70" x2="433.30" y2="502.70" stroke="#000" stroke-width="1.2" />
<text x="326.90" y="462.70" font-size="6.5" text-anchor="middle" transform="rotate(-89.95 326.90 462.70)">% Wound closure</text>
<rect x="347.40" y="470.00" width="15.00" height="30.10" fill="#000000"/>
<line x1="354.90" y1="470.30" x2="354.90" y2="465.50" stroke="#141414" stroke-width="1.2" />
<line x1="351.70" y1="465.50" x2="358.10" y2="465.50" stroke="#141414" stroke-width="1.2" />
<rect x="366.90" y="444.40" width="15.00" height="55.70" fill="#9b9b9f"/>
<line x1="374.40" y1="444.70" x2="374.40" y2="443.80" stroke="#141414" stroke-width="1.2" />
<line x1="371.20" y1="443.80" x2="377.60" y2="443.80" stroke="#141414" stroke-width="1.2" />
<rect x="386.50" y="454.00" width="15.00" height="46.10" fill="#7d7d7d"/>
<line x1="394.00" y1="454.30" x2="394.00" y2="451.80" stroke="#141414" stroke-width="1.2" />
<line x1="390.80" y1="451.80" x2="397.20" y2="451.80" stroke="#141414" stroke-width="1.2" />
<rect x="406.10" y="447.30" width="15.00" height="52.80" fill="#dedede"/>
<line x1="413.60" y1="447.60" x2="413.60" y2="446.70" stroke="#141414" stroke-width="1.2" />
<line x1="410.40" y1="446.70" x2="416.80" y2="446.70" stroke="#141414" stroke-width="1.2" />
<rect x="425.80" y="465.90" width="15.00" height="34.20" fill="#5c5c5c"/>
<line x1="433.30" y1="466.20" x2="433.30" y2="463.80" stroke="#141414" stroke-width="1.2" />
<line x1="430.10" y1="463.80" x2="436.50" y2="463.80" stroke="#141414" stroke-width="1.2" />
<path d="M355.30 440.60V437.60H373.60V440.60" stroke="#141414" stroke-width="1.0" fill="none" />
<text x="364.45" y="437.20" font-size="6.0" text-anchor="middle" transform="rotate(0.05 364.45 437.20)">****</text>
<path d="M375.40 440.60V437.60H393.70V440.60" stroke="#141414" stroke-width="1.0" fill="none" />
<text x="384.55" y="437.20" font-size="6.0" text-anchor="middle" transform="rotate(0.05 384.55 437.20)">**</text>
<path d="M395.90 440.60V437.60H413.40V440.60" stroke="#141414" stroke-width="1.0" fill="none" />
<text x="404.65" y="437.20" font-size="6.0" text-anchor="middle" transform="rotate(0.05 404.65 437.20)">*</text>
<text x="351.60" y="510.80" font-size="6.4" text-anchor="end" transform="rotate(0.05 351.60 510.80)">TGF-β</text>
<text x="354.90" y="510.90" font-size="5.4" text-anchor="middle" font-weight="bold" transform="rotate(0.05 354.90 510.90)">-</text>
<text x="374.40" y="511.10" font-size="5.0" text-anchor="middle" font-weight="bold" transform="rotate(0.05 374.40 511.10)">+</text>
<text x="394.00" y="511.10" font-size="5.0" text-anchor="middle" font-weight="bold" transform="rotate(0.05 394.00 511.10)">+</text>
<text x="413.60" y="511.10" font-size="5.0" text-anchor="middle" font-weight="bold" transform="rotate(0.05 413.60 511.10)">+</text>
<text x="433.30" y="511.10" font-size="5.0" text-anchor="middle" font-weight="bold" transform="rotate(0.05 433.30 511.10)">+</text>
<text x="351.60" y="518.30" font-size="6.4" text-anchor="end" transform="rotate(0.05 351.60 518.30)">SI-NC</text>
<text x="354.90" y="518.40" font-size="5.4" text-anchor="middle" font-weight="bold" transform="rotate(0.05 354.90 518.40)">-</text>
<text x="374.40" y="518.60" font-size="5.0" text-anchor="middle" font-weight="bold" transform="rotate(0.05 374.40 518.60)">+</text>
<text x="394.00" y="518.40" font-size="5.4" text-anchor="middle" font-weight="bold" transform="rotate(0.05 394.00 518.40)">-</text>
<text x="413.60" y="518.40" font-size="5.4" text-anchor="middle" font-weight="bold" transform="rotate(0.05 413.60 518.40)">-</text>
<text x="433.30" y="518.40" font-size="5.4" text-anchor="middle" font-weight="bold" transform="rotate(0.05 433.30 518.40)">-</text>
<text x="351.60" y="525.80" font-size="6.4" text-anchor="end" transform="rotate(0.05 351.60 525.80)">SI-LIN</text>
<text x="354.90" y="525.90" font-size="5.4" text-anchor="middle" font-weight="bold" transform="rotate(0.05 354.90 525.90)">-</text>
<text x="374.40" y="525.90" font-size="5.4" text-anchor="middle" font-weight="bold" transform="rotate(0.05 374.40 525.90)">-</text>
<text x="394.00" y="526.10" font-size="5.0" text-anchor="middle" font-weight="bold" transform="rotate(0.05 394.00 526.10)">+</text>
<text x="413.60" y="526.10" font-size="5.0" text-anchor="middle" font-weight="bold" transform="rotate(0.05 413.60 526.10)">+</text>
<text x="433.30" y="526.10" font-size="5.0" text-anchor="middle" font-weight="bold" transform="rotate(0.05 433.30 526.10)">+</text>
<text x="351.60" y="533.30" font-size="6.4" text-anchor="end" transform="rotate(0.05 351.60 533.30)">miR-inhibitor</text>
<text x="354.90" y="533.40" font-size="5.4" text-anchor="middle" font-weight="bold" transform="rotate(0.05 354.90 533.40)">-</text>
<text x="374.40" y="533.40" font-size="5.4" text-anchor="middle" font-weight="bold" transform="rotate(0.05 374.40 533.40)">-</text>
<text x="394.00" y="533.40" font-size="5.4" text-anchor="middle" font-weight="bold" transform="rotate(0.05 394.00 533.40)">-</text>
<text x="413.60" y="533.60" font-size="5.0" text-anchor="middle" font-weight="bold" transform="rotate(0.05 413.60 533.60)">+</text>
<text x="433.30" y="533.40" font-size="5.4" text-anchor="middle" font-weight="bold" transform="rotate(0.05 433.30 533.40)">-</text>
<text x="351.60" y="540.80" font-size="6.4" text-anchor="end" transform="rotate(0.05 351.60 540.80)">miR-NC</text>
<text x="354.90" y="540.90" font-size="5.4" text-anchor="middle" font-weight="bold" transform="rotate(0.05 354.90 540.90)">-</text>
<text x="374.40" y="540.90" font-size="5.4" text-anchor="middle" font-weight="bold" transform="rotate(0.05 374.40 540.90)">-</text>
<text x="394.00" y="540.90" font-size="5.4" text-anchor="middle" font-weight="bold" transform="rotate(0.05 394.00 540.90)">-</text>
<text x="413.60" y="540.90" font-size="5.4" text-anchor="middle" font-weight="bold" transform="rotate(0.05 413.60 540.90)">-</text>
<text x="433.30" y="541.10" font-size="5.0" text-anchor="middle" font-weight="bold" transform="rotate(0.05 433.30 541.10)">+</text>
</g>
</svg>
</body>
</html>
